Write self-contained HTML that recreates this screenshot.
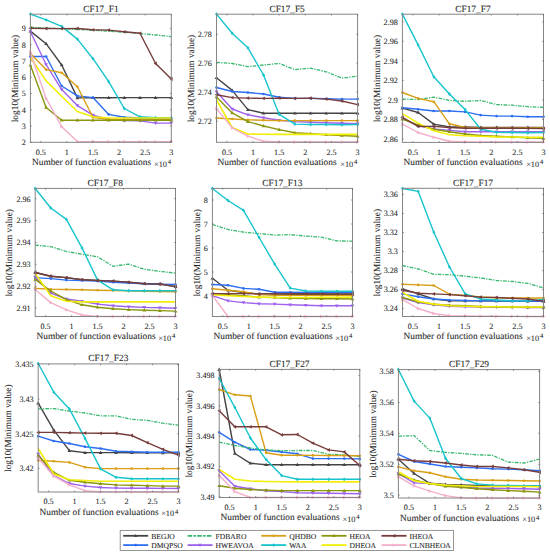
<!DOCTYPE html><html><head><meta charset="utf-8"><style>html,body{margin:0;padding:0;background:#fff;}svg{display:block}</style></head><body>
<svg width="550" height="554" viewBox="0 0 550 554" text-rendering="geometricPrecision">
<style>svg text{font-family:"Liberation Serif", serif;stroke:#262626;stroke-width:0.08px;}</style>
<rect width="550" height="554" fill="#fff"/>
<polyline points="30.4,31.1 46.1,43.7 61.7,65.0 77.4,97.9 93.0,97.8 108.7,97.7 124.3,97.6 140.0,97.6 155.6,97.6 171.3,97.6" fill="none" stroke="#444444" stroke-width="1.4" stroke-linejoin="round"/>
<path d="M30.4 29.2l1.9 3.2h-3.8z" fill="#444444"/><path d="M46.1 41.8l1.9 3.2h-3.8z" fill="#444444"/><path d="M61.7 63.1l1.9 3.2h-3.8z" fill="#444444"/><path d="M77.4 96.0l1.9 3.2h-3.8z" fill="#444444"/><path d="M93.0 95.9l1.9 3.2h-3.8z" fill="#444444"/><path d="M108.7 95.8l1.9 3.2h-3.8z" fill="#444444"/><path d="M124.3 95.7l1.9 3.2h-3.8z" fill="#444444"/><path d="M140.0 95.7l1.9 3.2h-3.8z" fill="#444444"/><path d="M155.6 95.7l1.9 3.2h-3.8z" fill="#444444"/><path d="M171.3 95.7l1.9 3.2h-3.8z" fill="#444444"/>
<polyline points="30.4,56.5 46.1,56.5 61.7,86.0 77.4,95.9 93.0,97.6 108.7,114.4 124.3,117.3 140.0,118.0 155.6,118.7 171.3,118.7" fill="none" stroke="#2c6ef2" stroke-width="1.4" stroke-linejoin="round"/>
<circle cx="30.4" cy="56.5" r="1.3" fill="#2c6ef2"/><circle cx="46.1" cy="56.5" r="1.3" fill="#2c6ef2"/><circle cx="61.7" cy="86.0" r="1.3" fill="#2c6ef2"/><circle cx="77.4" cy="95.9" r="1.3" fill="#2c6ef2"/><circle cx="93.0" cy="97.6" r="1.3" fill="#2c6ef2"/><circle cx="108.7" cy="114.4" r="1.3" fill="#2c6ef2"/><circle cx="124.3" cy="117.3" r="1.3" fill="#2c6ef2"/><circle cx="140.0" cy="118.0" r="1.3" fill="#2c6ef2"/><circle cx="155.6" cy="118.7" r="1.3" fill="#2c6ef2"/><circle cx="171.3" cy="118.7" r="1.3" fill="#2c6ef2"/>
<polyline points="30.4,27.3 46.1,28.0 61.7,28.7 77.4,29.5 93.0,30.3 108.7,31.2 124.3,32.2 140.0,33.5 155.6,35.0 171.3,36.6" fill="none" stroke="#35b86c" stroke-width="1.3" stroke-linejoin="round" stroke-dasharray="3.6,1.2,1.3,1.2"/>
<polyline points="30.4,31.8 46.1,64.5 61.7,89.6 77.4,105.6 93.0,115.1 108.7,119.5 124.3,120.5 140.0,120.9 155.6,123.1 171.3,123.1" fill="none" stroke="#9f62ee" stroke-width="1.4" stroke-linejoin="round"/>
<path d="M30.4 33.7l1.9 -3.2h-3.8z" fill="#9f62ee"/><path d="M46.1 66.4l1.9 -3.2h-3.8z" fill="#9f62ee"/><path d="M61.7 91.5l1.9 -3.2h-3.8z" fill="#9f62ee"/><path d="M77.4 107.5l1.9 -3.2h-3.8z" fill="#9f62ee"/><path d="M93.0 117.0l1.9 -3.2h-3.8z" fill="#9f62ee"/><path d="M108.7 121.4l1.9 -3.2h-3.8z" fill="#9f62ee"/><path d="M124.3 122.4l1.9 -3.2h-3.8z" fill="#9f62ee"/><path d="M140.0 122.8l1.9 -3.2h-3.8z" fill="#9f62ee"/><path d="M155.6 125.0l1.9 -3.2h-3.8z" fill="#9f62ee"/><path d="M171.3 125.0l1.9 -3.2h-3.8z" fill="#9f62ee"/>
<polyline points="30.4,53.6 46.1,69.6 61.7,72.8 77.4,86.7 93.0,117.3 108.7,119.5 124.3,119.5 140.0,119.5 155.6,119.5 171.3,119.5" fill="none" stroke="#d89f16" stroke-width="1.4" stroke-linejoin="round"/>
<circle cx="30.4" cy="53.6" r="1.3" fill="#d89f16"/><circle cx="46.1" cy="69.6" r="1.3" fill="#d89f16"/><circle cx="61.7" cy="72.8" r="1.3" fill="#d89f16"/><circle cx="77.4" cy="86.7" r="1.3" fill="#d89f16"/><circle cx="93.0" cy="117.3" r="1.3" fill="#d89f16"/><circle cx="108.7" cy="119.5" r="1.3" fill="#d89f16"/><circle cx="124.3" cy="119.5" r="1.3" fill="#d89f16"/><circle cx="140.0" cy="119.5" r="1.3" fill="#d89f16"/><circle cx="155.6" cy="119.5" r="1.3" fill="#d89f16"/><circle cx="171.3" cy="119.5" r="1.3" fill="#d89f16"/>
<polyline points="30.4,14.1 46.1,19.9 61.7,26.4 77.4,39.1 93.0,58.7 108.7,81.6 124.3,108.5 140.0,116.8 155.6,117.7 171.3,117.7" fill="none" stroke="#16c4cc" stroke-width="1.4" stroke-linejoin="round"/>
<path d="M30.4 12.2l1.5 1.9l-1.5 1.9l-1.5 -1.9z" fill="#16c4cc"/><path d="M46.1 18.0l1.5 1.9l-1.5 1.9l-1.5 -1.9z" fill="#16c4cc"/><path d="M61.7 24.5l1.5 1.9l-1.5 1.9l-1.5 -1.9z" fill="#16c4cc"/><path d="M77.4 37.2l1.5 1.9l-1.5 1.9l-1.5 -1.9z" fill="#16c4cc"/><path d="M93.0 56.8l1.5 1.9l-1.5 1.9l-1.5 -1.9z" fill="#16c4cc"/><path d="M108.7 79.7l1.5 1.9l-1.5 1.9l-1.5 -1.9z" fill="#16c4cc"/><path d="M124.3 106.6l1.5 1.9l-1.5 1.9l-1.5 -1.9z" fill="#16c4cc"/><path d="M140.0 114.9l1.5 1.9l-1.5 1.9l-1.5 -1.9z" fill="#16c4cc"/><path d="M155.6 115.8l1.5 1.9l-1.5 1.9l-1.5 -1.9z" fill="#16c4cc"/><path d="M171.3 115.8l1.5 1.9l-1.5 1.9l-1.5 -1.9z" fill="#16c4cc"/>
<polyline points="30.4,65.3 46.1,107.5 61.7,120.2 77.4,120.2 93.0,120.2 108.7,120.2 124.3,120.2 140.0,120.2 155.6,120.2 171.3,120.2" fill="none" stroke="#8a960c" stroke-width="1.4" stroke-linejoin="round"/>
<path d="M30.4 63.4l1.9 3.2h-3.8z" fill="#8a960c"/><path d="M46.1 105.6l1.9 3.2h-3.8z" fill="#8a960c"/><path d="M61.7 118.3l1.9 3.2h-3.8z" fill="#8a960c"/><path d="M77.4 118.3l1.9 3.2h-3.8z" fill="#8a960c"/><path d="M93.0 118.3l1.9 3.2h-3.8z" fill="#8a960c"/><path d="M108.7 118.3l1.9 3.2h-3.8z" fill="#8a960c"/><path d="M124.3 118.3l1.9 3.2h-3.8z" fill="#8a960c"/><path d="M140.0 118.3l1.9 3.2h-3.8z" fill="#8a960c"/><path d="M155.6 118.3l1.9 3.2h-3.8z" fill="#8a960c"/><path d="M171.3 118.3l1.9 3.2h-3.8z" fill="#8a960c"/>
<polyline points="30.4,57.3 46.1,80.9 61.7,96.2 77.4,111.5 93.0,116.8 108.7,118.0 124.3,118.0 140.0,118.0 155.6,118.0 171.3,118.0" fill="none" stroke="#f2ee08" stroke-width="1.6" stroke-linejoin="round"/>
<polyline points="30.4,28.2 46.1,28.5 61.7,28.6 77.4,28.5 93.0,29.8 108.7,30.1 124.3,31.8 140.0,33.3 155.6,63.5 171.3,79.0" fill="none" stroke="#773c3c" stroke-width="1.4" stroke-linejoin="round"/>
<path d="M28.5 28.2l3.2 -1.9v3.8z" fill="#773c3c"/><path d="M44.2 28.5l3.2 -1.9v3.8z" fill="#773c3c"/><path d="M59.8 28.6l3.2 -1.9v3.8z" fill="#773c3c"/><path d="M75.5 28.5l3.2 -1.9v3.8z" fill="#773c3c"/><path d="M91.1 29.8l3.2 -1.9v3.8z" fill="#773c3c"/><path d="M106.8 30.1l3.2 -1.9v3.8z" fill="#773c3c"/><path d="M122.4 31.8l3.2 -1.9v3.8z" fill="#773c3c"/><path d="M138.1 33.3l3.2 -1.9v3.8z" fill="#773c3c"/><path d="M153.7 63.5l3.2 -1.9v3.8z" fill="#773c3c"/><path d="M169.4 79.0l3.2 -1.9v3.8z" fill="#773c3c"/>
<polyline points="30.4,52.2 46.1,98.4 61.7,126.7 77.4,141.6 93.0,141.6 108.7,141.6 124.3,141.6 140.0,141.6 155.6,141.6 171.3,141.6" fill="none" stroke="#f4aecb" stroke-width="1.4" stroke-linejoin="round"/>
<path d="M32.3 52.2l-3.2 -1.9v3.8z" fill="#f4aecb"/><path d="M48.0 98.4l-3.2 -1.9v3.8z" fill="#f4aecb"/><path d="M63.6 126.7l-3.2 -1.9v3.8z" fill="#f4aecb"/><path d="M79.3 141.6l-3.2 -1.9v3.8z" fill="#f4aecb"/><path d="M94.9 141.6l-3.2 -1.9v3.8z" fill="#f4aecb"/><path d="M110.6 141.6l-3.2 -1.9v3.8z" fill="#f4aecb"/><path d="M126.2 141.6l-3.2 -1.9v3.8z" fill="#f4aecb"/><path d="M141.9 141.6l-3.2 -1.9v3.8z" fill="#f4aecb"/><path d="M157.5 141.6l-3.2 -1.9v3.8z" fill="#f4aecb"/><path d="M173.2 141.6l-3.2 -1.9v3.8z" fill="#f4aecb"/>
<rect x="30.4" y="14.2" width="140.9" height="128.1" fill="none" stroke="#858585" stroke-width="1.0"/>
<path d="M40.8 142.3v-1.4M40.8 14.2v1.4M66.9 142.3v-1.4M66.9 14.2v1.4M93.0 142.3v-1.4M93.0 14.2v1.4M119.1 142.3v-1.4M119.1 14.2v1.4M145.2 142.3v-1.4M145.2 14.2v1.4M171.3 142.3v-1.4M171.3 14.2v1.4M30.4 142.3h1.4M171.3 142.3h-1.4M30.4 126.0h1.4M171.3 126.0h-1.4M30.4 109.8h1.4M171.3 109.8h-1.4M30.4 93.5h1.4M171.3 93.5h-1.4M30.4 77.2h1.4M171.3 77.2h-1.4M30.4 61.0h1.4M171.3 61.0h-1.4M30.4 44.7h1.4M171.3 44.7h-1.4M30.4 28.4h1.4M171.3 28.4h-1.4" stroke="#555" stroke-width="0.6" fill="none"/>
<text x="40.8" y="154.6" font-size="8.15" text-anchor="middle" fill="#262626">0.5</text>
<text x="66.9" y="154.6" font-size="8.15" text-anchor="middle" fill="#262626">1</text>
<text x="93.0" y="154.6" font-size="8.15" text-anchor="middle" fill="#262626">1.5</text>
<text x="119.1" y="154.6" font-size="8.15" text-anchor="middle" fill="#262626">2</text>
<text x="145.2" y="154.6" font-size="8.15" text-anchor="middle" fill="#262626">2.5</text>
<text x="171.3" y="154.6" font-size="8.15" text-anchor="middle" fill="#262626">3</text>
<text x="25.8" y="145.1" font-size="8.15" text-anchor="end" fill="#262626">2</text>
<text x="25.8" y="128.8" font-size="8.15" text-anchor="end" fill="#262626">3</text>
<text x="25.8" y="112.6" font-size="8.15" text-anchor="end" fill="#262626">4</text>
<text x="25.8" y="96.3" font-size="8.15" text-anchor="end" fill="#262626">5</text>
<text x="25.8" y="80.0" font-size="8.15" text-anchor="end" fill="#262626">6</text>
<text x="25.8" y="63.8" font-size="8.15" text-anchor="end" fill="#262626">7</text>
<text x="25.8" y="47.5" font-size="8.15" text-anchor="end" fill="#262626">8</text>
<text x="25.8" y="31.2" font-size="8.15" text-anchor="end" fill="#262626">9</text>
<text x="100.9" y="11.6" font-size="9.4" text-anchor="middle" fill="#262626">CF17_F1</text>
<text x="32.0" y="164.9" font-size="9.35" fill="#262626">Number of function evaluations</text>
<text x="154.0" y="166.5" font-size="8.3" fill="#333">&#215;10</text>
<text x="167.7" y="163.8" font-size="6.6" fill="#333">4</text>
<text transform="translate(17.7 78.5) rotate(-90)" font-size="9.35" text-anchor="middle" fill="#262626">log10(Minimum value)</text>
<polyline points="216.5,77.8 232.2,90.4 247.9,109.6 263.5,113.2 279.2,113.3 294.9,113.3 310.6,113.3 326.2,113.3 341.9,113.3 357.6,113.3" fill="none" stroke="#444444" stroke-width="1.4" stroke-linejoin="round"/>
<path d="M216.5 75.9l1.9 3.2h-3.8z" fill="#444444"/><path d="M232.2 88.5l1.9 3.2h-3.8z" fill="#444444"/><path d="M247.9 107.7l1.9 3.2h-3.8z" fill="#444444"/><path d="M263.5 111.3l1.9 3.2h-3.8z" fill="#444444"/><path d="M279.2 111.4l1.9 3.2h-3.8z" fill="#444444"/><path d="M294.9 111.4l1.9 3.2h-3.8z" fill="#444444"/><path d="M310.6 111.4l1.9 3.2h-3.8z" fill="#444444"/><path d="M326.2 111.4l1.9 3.2h-3.8z" fill="#444444"/><path d="M341.9 111.4l1.9 3.2h-3.8z" fill="#444444"/><path d="M357.6 111.4l1.9 3.2h-3.8z" fill="#444444"/>
<polyline points="216.5,87.5 232.2,91.5 247.9,92.5 263.5,94.0 279.2,97.2 294.9,98.4 310.6,98.4 326.2,98.8 341.9,99.1 357.6,99.1" fill="none" stroke="#2c6ef2" stroke-width="1.4" stroke-linejoin="round"/>
<circle cx="216.5" cy="87.5" r="1.3" fill="#2c6ef2"/><circle cx="232.2" cy="91.5" r="1.3" fill="#2c6ef2"/><circle cx="247.9" cy="92.5" r="1.3" fill="#2c6ef2"/><circle cx="263.5" cy="94.0" r="1.3" fill="#2c6ef2"/><circle cx="279.2" cy="97.2" r="1.3" fill="#2c6ef2"/><circle cx="294.9" cy="98.4" r="1.3" fill="#2c6ef2"/><circle cx="310.6" cy="98.4" r="1.3" fill="#2c6ef2"/><circle cx="326.2" cy="98.8" r="1.3" fill="#2c6ef2"/><circle cx="341.9" cy="99.1" r="1.3" fill="#2c6ef2"/><circle cx="357.6" cy="99.1" r="1.3" fill="#2c6ef2"/>
<polyline points="216.5,62.4 232.2,63.5 247.9,66.7 263.5,65.0 279.2,63.5 294.9,69.6 310.6,68.2 326.2,71.8 341.9,78.1 357.6,76.2" fill="none" stroke="#35b86c" stroke-width="1.3" stroke-linejoin="round" stroke-dasharray="3.6,1.2,1.3,1.2"/>
<polyline points="216.5,91.8 232.2,109.0 247.9,114.8 263.5,117.7 279.2,120.2 294.9,121.6 310.6,122.2 326.2,122.8 341.9,123.3 357.6,123.8" fill="none" stroke="#9f62ee" stroke-width="1.4" stroke-linejoin="round"/>
<path d="M216.5 93.7l1.9 -3.2h-3.8z" fill="#9f62ee"/><path d="M232.2 110.9l1.9 -3.2h-3.8z" fill="#9f62ee"/><path d="M247.9 116.7l1.9 -3.2h-3.8z" fill="#9f62ee"/><path d="M263.5 119.6l1.9 -3.2h-3.8z" fill="#9f62ee"/><path d="M279.2 122.1l1.9 -3.2h-3.8z" fill="#9f62ee"/><path d="M294.9 123.5l1.9 -3.2h-3.8z" fill="#9f62ee"/><path d="M310.6 124.1l1.9 -3.2h-3.8z" fill="#9f62ee"/><path d="M326.2 124.7l1.9 -3.2h-3.8z" fill="#9f62ee"/><path d="M341.9 125.2l1.9 -3.2h-3.8z" fill="#9f62ee"/><path d="M357.6 125.7l1.9 -3.2h-3.8z" fill="#9f62ee"/>
<polyline points="216.5,118.0 232.2,119.0 247.9,119.9 263.5,120.2 279.2,120.6 294.9,120.6 310.6,120.6 326.2,120.6 341.9,120.6 357.6,120.6" fill="none" stroke="#d89f16" stroke-width="1.4" stroke-linejoin="round"/>
<circle cx="216.5" cy="118.0" r="1.3" fill="#d89f16"/><circle cx="232.2" cy="119.0" r="1.3" fill="#d89f16"/><circle cx="247.9" cy="119.9" r="1.3" fill="#d89f16"/><circle cx="263.5" cy="120.2" r="1.3" fill="#d89f16"/><circle cx="279.2" cy="120.6" r="1.3" fill="#d89f16"/><circle cx="294.9" cy="120.6" r="1.3" fill="#d89f16"/><circle cx="310.6" cy="120.6" r="1.3" fill="#d89f16"/><circle cx="326.2" cy="120.6" r="1.3" fill="#d89f16"/><circle cx="341.9" cy="120.6" r="1.3" fill="#d89f16"/><circle cx="357.6" cy="120.6" r="1.3" fill="#d89f16"/>
<polyline points="216.5,14.1 232.2,33.3 247.9,47.8 263.5,75.0 279.2,114.4 294.9,124.1 310.6,124.5 326.2,124.5 341.9,124.8 357.6,124.5" fill="none" stroke="#16c4cc" stroke-width="1.4" stroke-linejoin="round"/>
<path d="M216.5 12.2l1.5 1.9l-1.5 1.9l-1.5 -1.9z" fill="#16c4cc"/><path d="M232.2 31.4l1.5 1.9l-1.5 1.9l-1.5 -1.9z" fill="#16c4cc"/><path d="M247.9 45.9l1.5 1.9l-1.5 1.9l-1.5 -1.9z" fill="#16c4cc"/><path d="M263.5 73.1l1.5 1.9l-1.5 1.9l-1.5 -1.9z" fill="#16c4cc"/><path d="M279.2 112.5l1.5 1.9l-1.5 1.9l-1.5 -1.9z" fill="#16c4cc"/><path d="M294.9 122.2l1.5 1.9l-1.5 1.9l-1.5 -1.9z" fill="#16c4cc"/><path d="M310.6 122.6l1.5 1.9l-1.5 1.9l-1.5 -1.9z" fill="#16c4cc"/><path d="M326.2 122.6l1.5 1.9l-1.5 1.9l-1.5 -1.9z" fill="#16c4cc"/><path d="M341.9 122.9l1.5 1.9l-1.5 1.9l-1.5 -1.9z" fill="#16c4cc"/><path d="M357.6 122.6l1.5 1.9l-1.5 1.9l-1.5 -1.9z" fill="#16c4cc"/>
<polyline points="216.5,96.9 232.2,112.9 247.9,121.6 263.5,126.0 279.2,129.6 294.9,132.8 310.6,133.7 326.2,134.7 341.9,135.5 357.6,136.2" fill="none" stroke="#8a960c" stroke-width="1.4" stroke-linejoin="round"/>
<path d="M216.5 95.0l1.9 3.2h-3.8z" fill="#8a960c"/><path d="M232.2 111.0l1.9 3.2h-3.8z" fill="#8a960c"/><path d="M247.9 119.7l1.9 3.2h-3.8z" fill="#8a960c"/><path d="M263.5 124.1l1.9 3.2h-3.8z" fill="#8a960c"/><path d="M279.2 127.7l1.9 3.2h-3.8z" fill="#8a960c"/><path d="M294.9 130.9l1.9 3.2h-3.8z" fill="#8a960c"/><path d="M310.6 131.8l1.9 3.2h-3.8z" fill="#8a960c"/><path d="M326.2 132.8l1.9 3.2h-3.8z" fill="#8a960c"/><path d="M341.9 133.6l1.9 3.2h-3.8z" fill="#8a960c"/><path d="M357.6 134.3l1.9 3.2h-3.8z" fill="#8a960c"/>
<polyline points="216.5,99.8 232.2,127.5 247.9,134.0 263.5,134.2 279.2,134.4 294.9,134.4 310.6,134.4 326.2,134.4 341.9,134.4 357.6,134.4" fill="none" stroke="#f2ee08" stroke-width="1.6" stroke-linejoin="round"/>
<polyline points="216.5,94.7 232.2,97.6 247.9,98.1 263.5,98.4 279.2,98.1 294.9,98.4 310.6,98.1 326.2,99.1 341.9,101.0 357.6,104.6" fill="none" stroke="#773c3c" stroke-width="1.4" stroke-linejoin="round"/>
<path d="M214.6 94.7l3.2 -1.9v3.8z" fill="#773c3c"/><path d="M230.3 97.6l3.2 -1.9v3.8z" fill="#773c3c"/><path d="M246.0 98.1l3.2 -1.9v3.8z" fill="#773c3c"/><path d="M261.6 98.4l3.2 -1.9v3.8z" fill="#773c3c"/><path d="M277.3 98.1l3.2 -1.9v3.8z" fill="#773c3c"/><path d="M293.0 98.4l3.2 -1.9v3.8z" fill="#773c3c"/><path d="M308.7 98.1l3.2 -1.9v3.8z" fill="#773c3c"/><path d="M324.3 99.1l3.2 -1.9v3.8z" fill="#773c3c"/><path d="M340.0 101.0l3.2 -1.9v3.8z" fill="#773c3c"/><path d="M355.7 104.6l3.2 -1.9v3.8z" fill="#773c3c"/>
<polyline points="216.5,108.5 232.2,127.9 247.9,136.2 263.5,141.3 279.2,142.0 294.9,142.0 310.6,142.0 326.2,142.0 341.9,142.0 357.6,142.0" fill="none" stroke="#f4aecb" stroke-width="1.4" stroke-linejoin="round"/>
<path d="M218.4 108.5l-3.2 -1.9v3.8z" fill="#f4aecb"/><path d="M234.1 127.9l-3.2 -1.9v3.8z" fill="#f4aecb"/><path d="M249.8 136.2l-3.2 -1.9v3.8z" fill="#f4aecb"/><path d="M265.4 141.3l-3.2 -1.9v3.8z" fill="#f4aecb"/><path d="M281.1 142.0l-3.2 -1.9v3.8z" fill="#f4aecb"/><path d="M296.8 142.0l-3.2 -1.9v3.8z" fill="#f4aecb"/><path d="M312.5 142.0l-3.2 -1.9v3.8z" fill="#f4aecb"/><path d="M328.1 142.0l-3.2 -1.9v3.8z" fill="#f4aecb"/><path d="M343.8 142.0l-3.2 -1.9v3.8z" fill="#f4aecb"/><path d="M359.5 142.0l-3.2 -1.9v3.8z" fill="#f4aecb"/>
<rect x="216.5" y="14.2" width="141.1" height="128.1" fill="none" stroke="#858585" stroke-width="1.0"/>
<path d="M227.0 142.3v-1.4M227.0 14.2v1.4M253.1 142.3v-1.4M253.1 14.2v1.4M279.2 142.3v-1.4M279.2 14.2v1.4M305.3 142.3v-1.4M305.3 14.2v1.4M331.5 142.3v-1.4M331.5 14.2v1.4M357.6 142.3v-1.4M357.6 14.2v1.4M216.5 121.2h1.4M357.6 121.2h-1.4M216.5 92.1h1.4M357.6 92.1h-1.4M216.5 63.1h1.4M357.6 63.1h-1.4M216.5 34.3h1.4M357.6 34.3h-1.4" stroke="#555" stroke-width="0.6" fill="none"/>
<text x="227.0" y="154.6" font-size="8.15" text-anchor="middle" fill="#262626">0.5</text>
<text x="253.1" y="154.6" font-size="8.15" text-anchor="middle" fill="#262626">1</text>
<text x="279.2" y="154.6" font-size="8.15" text-anchor="middle" fill="#262626">1.5</text>
<text x="305.3" y="154.6" font-size="8.15" text-anchor="middle" fill="#262626">2</text>
<text x="331.5" y="154.6" font-size="8.15" text-anchor="middle" fill="#262626">2.5</text>
<text x="357.6" y="154.6" font-size="8.15" text-anchor="middle" fill="#262626">3</text>
<text x="211.9" y="124.0" font-size="8.15" text-anchor="end" fill="#262626">2.72</text>
<text x="211.9" y="94.9" font-size="8.15" text-anchor="end" fill="#262626">2.74</text>
<text x="211.9" y="65.9" font-size="8.15" text-anchor="end" fill="#262626">2.76</text>
<text x="211.9" y="37.1" font-size="8.15" text-anchor="end" fill="#262626">2.78</text>
<text x="287.1" y="11.6" font-size="9.4" text-anchor="middle" fill="#262626">CF17_F5</text>
<text x="217.5" y="164.9" font-size="9.35" fill="#262626">Number of function evaluations</text>
<text x="340.3" y="166.5" font-size="8.3" fill="#333">&#215;10</text>
<text x="354.0" y="163.8" font-size="6.6" fill="#333">4</text>
<text transform="translate(193.6 78.5) rotate(-90)" font-size="9.35" text-anchor="middle" fill="#262626">log10(Minimum value)</text>
<polyline points="402.4,108.1 418.1,112.5 433.8,124.1 449.4,127.0 465.1,127.0 480.8,127.5 496.5,127.5 512.1,127.5 527.8,127.5 543.5,127.5" fill="none" stroke="#444444" stroke-width="1.4" stroke-linejoin="round"/>
<path d="M402.4 106.2l1.9 3.2h-3.8z" fill="#444444"/><path d="M418.1 110.6l1.9 3.2h-3.8z" fill="#444444"/><path d="M433.8 122.2l1.9 3.2h-3.8z" fill="#444444"/><path d="M449.4 125.1l1.9 3.2h-3.8z" fill="#444444"/><path d="M465.1 125.1l1.9 3.2h-3.8z" fill="#444444"/><path d="M480.8 125.6l1.9 3.2h-3.8z" fill="#444444"/><path d="M496.5 125.6l1.9 3.2h-3.8z" fill="#444444"/><path d="M512.1 125.6l1.9 3.2h-3.8z" fill="#444444"/><path d="M527.8 125.6l1.9 3.2h-3.8z" fill="#444444"/><path d="M543.5 125.6l1.9 3.2h-3.8z" fill="#444444"/>
<polyline points="402.4,107.8 418.1,109.3 433.8,111.0 449.4,111.0 465.1,111.9 480.8,115.1 496.5,116.1 512.1,116.1 527.8,116.8 543.5,116.8" fill="none" stroke="#2c6ef2" stroke-width="1.4" stroke-linejoin="round"/>
<circle cx="402.4" cy="107.8" r="1.3" fill="#2c6ef2"/><circle cx="418.1" cy="109.3" r="1.3" fill="#2c6ef2"/><circle cx="433.8" cy="111.0" r="1.3" fill="#2c6ef2"/><circle cx="449.4" cy="111.0" r="1.3" fill="#2c6ef2"/><circle cx="465.1" cy="111.9" r="1.3" fill="#2c6ef2"/><circle cx="480.8" cy="115.1" r="1.3" fill="#2c6ef2"/><circle cx="496.5" cy="116.1" r="1.3" fill="#2c6ef2"/><circle cx="512.1" cy="116.1" r="1.3" fill="#2c6ef2"/><circle cx="527.8" cy="116.8" r="1.3" fill="#2c6ef2"/><circle cx="543.5" cy="116.8" r="1.3" fill="#2c6ef2"/>
<polyline points="402.4,99.1 418.1,99.5 433.8,97.2 449.4,100.5 465.1,101.3 480.8,100.5 496.5,104.5 512.1,105.2 527.8,106.7 543.5,107.4" fill="none" stroke="#35b86c" stroke-width="1.3" stroke-linejoin="round" stroke-dasharray="3.6,1.2,1.3,1.2"/>
<polyline points="402.4,118.0 418.1,126.0 433.8,128.9 449.4,130.4 465.1,131.8 480.8,131.8 496.5,131.8 512.1,131.8 527.8,131.8 543.5,131.8" fill="none" stroke="#9f62ee" stroke-width="1.4" stroke-linejoin="round"/>
<path d="M402.4 119.9l1.9 -3.2h-3.8z" fill="#9f62ee"/><path d="M418.1 127.9l1.9 -3.2h-3.8z" fill="#9f62ee"/><path d="M433.8 130.8l1.9 -3.2h-3.8z" fill="#9f62ee"/><path d="M449.4 132.3l1.9 -3.2h-3.8z" fill="#9f62ee"/><path d="M465.1 133.7l1.9 -3.2h-3.8z" fill="#9f62ee"/><path d="M480.8 133.7l1.9 -3.2h-3.8z" fill="#9f62ee"/><path d="M496.5 133.7l1.9 -3.2h-3.8z" fill="#9f62ee"/><path d="M512.1 133.7l1.9 -3.2h-3.8z" fill="#9f62ee"/><path d="M527.8 133.7l1.9 -3.2h-3.8z" fill="#9f62ee"/><path d="M543.5 133.7l1.9 -3.2h-3.8z" fill="#9f62ee"/>
<polyline points="402.4,92.5 418.1,98.4 433.8,101.7 449.4,123.8 465.1,127.5 480.8,128.0 496.5,128.0 512.1,128.0 527.8,128.0 543.5,128.0" fill="none" stroke="#d89f16" stroke-width="1.4" stroke-linejoin="round"/>
<circle cx="402.4" cy="92.5" r="1.3" fill="#d89f16"/><circle cx="418.1" cy="98.4" r="1.3" fill="#d89f16"/><circle cx="433.8" cy="101.7" r="1.3" fill="#d89f16"/><circle cx="449.4" cy="123.8" r="1.3" fill="#d89f16"/><circle cx="465.1" cy="127.5" r="1.3" fill="#d89f16"/><circle cx="480.8" cy="128.0" r="1.3" fill="#d89f16"/><circle cx="496.5" cy="128.0" r="1.3" fill="#d89f16"/><circle cx="512.1" cy="128.0" r="1.3" fill="#d89f16"/><circle cx="527.8" cy="128.0" r="1.3" fill="#d89f16"/><circle cx="543.5" cy="128.0" r="1.3" fill="#d89f16"/>
<polyline points="402.4,14.1 418.1,44.9 433.8,76.8 449.4,94.0 465.1,109.6 480.8,129.3 496.5,132.3 512.1,132.5 527.8,132.8 543.5,132.5" fill="none" stroke="#16c4cc" stroke-width="1.4" stroke-linejoin="round"/>
<path d="M402.4 12.2l1.5 1.9l-1.5 1.9l-1.5 -1.9z" fill="#16c4cc"/><path d="M418.1 43.0l1.5 1.9l-1.5 1.9l-1.5 -1.9z" fill="#16c4cc"/><path d="M433.8 74.9l1.5 1.9l-1.5 1.9l-1.5 -1.9z" fill="#16c4cc"/><path d="M449.4 92.1l1.5 1.9l-1.5 1.9l-1.5 -1.9z" fill="#16c4cc"/><path d="M465.1 107.7l1.5 1.9l-1.5 1.9l-1.5 -1.9z" fill="#16c4cc"/><path d="M480.8 127.4l1.5 1.9l-1.5 1.9l-1.5 -1.9z" fill="#16c4cc"/><path d="M496.5 130.4l1.5 1.9l-1.5 1.9l-1.5 -1.9z" fill="#16c4cc"/><path d="M512.1 130.6l1.5 1.9l-1.5 1.9l-1.5 -1.9z" fill="#16c4cc"/><path d="M527.8 130.9l1.5 1.9l-1.5 1.9l-1.5 -1.9z" fill="#16c4cc"/><path d="M543.5 130.6l1.5 1.9l-1.5 1.9l-1.5 -1.9z" fill="#16c4cc"/>
<polyline points="402.4,119.2 418.1,125.0 433.8,129.3 449.4,131.8 465.1,134.0 480.8,135.5 496.5,136.2 512.1,137.0 527.8,137.7 543.5,138.4" fill="none" stroke="#8a960c" stroke-width="1.4" stroke-linejoin="round"/>
<path d="M402.4 117.3l1.9 3.2h-3.8z" fill="#8a960c"/><path d="M418.1 123.1l1.9 3.2h-3.8z" fill="#8a960c"/><path d="M433.8 127.4l1.9 3.2h-3.8z" fill="#8a960c"/><path d="M449.4 129.9l1.9 3.2h-3.8z" fill="#8a960c"/><path d="M465.1 132.1l1.9 3.2h-3.8z" fill="#8a960c"/><path d="M480.8 133.6l1.9 3.2h-3.8z" fill="#8a960c"/><path d="M496.5 134.3l1.9 3.2h-3.8z" fill="#8a960c"/><path d="M512.1 135.1l1.9 3.2h-3.8z" fill="#8a960c"/><path d="M527.8 135.8l1.9 3.2h-3.8z" fill="#8a960c"/><path d="M543.5 136.5l1.9 3.2h-3.8z" fill="#8a960c"/>
<polyline points="402.4,113.6 418.1,123.1 433.8,130.8 449.4,134.7 465.1,135.7 480.8,136.2 496.5,136.9 512.1,137.0 527.8,137.2 543.5,137.3" fill="none" stroke="#f2ee08" stroke-width="1.6" stroke-linejoin="round"/>
<polyline points="402.4,117.3 418.1,126.4 433.8,126.4 449.4,127.5 465.1,128.2 480.8,128.2 496.5,128.2 512.1,128.3 527.8,128.4 543.5,128.6" fill="none" stroke="#773c3c" stroke-width="1.4" stroke-linejoin="round"/>
<path d="M400.5 117.3l3.2 -1.9v3.8z" fill="#773c3c"/><path d="M416.2 126.4l3.2 -1.9v3.8z" fill="#773c3c"/><path d="M431.9 126.4l3.2 -1.9v3.8z" fill="#773c3c"/><path d="M447.5 127.5l3.2 -1.9v3.8z" fill="#773c3c"/><path d="M463.2 128.2l3.2 -1.9v3.8z" fill="#773c3c"/><path d="M478.9 128.2l3.2 -1.9v3.8z" fill="#773c3c"/><path d="M494.6 128.2l3.2 -1.9v3.8z" fill="#773c3c"/><path d="M510.2 128.3l3.2 -1.9v3.8z" fill="#773c3c"/><path d="M525.9 128.4l3.2 -1.9v3.8z" fill="#773c3c"/><path d="M541.6 128.6l3.2 -1.9v3.8z" fill="#773c3c"/>
<polyline points="402.4,124.1 418.1,132.5 433.8,137.3 449.4,141.3 465.1,142.0 480.8,142.0 496.5,142.0 512.1,142.0 527.8,142.0 543.5,142.0" fill="none" stroke="#f4aecb" stroke-width="1.4" stroke-linejoin="round"/>
<path d="M404.3 124.1l-3.2 -1.9v3.8z" fill="#f4aecb"/><path d="M420.0 132.5l-3.2 -1.9v3.8z" fill="#f4aecb"/><path d="M435.7 137.3l-3.2 -1.9v3.8z" fill="#f4aecb"/><path d="M451.3 141.3l-3.2 -1.9v3.8z" fill="#f4aecb"/><path d="M467.0 142.0l-3.2 -1.9v3.8z" fill="#f4aecb"/><path d="M482.7 142.0l-3.2 -1.9v3.8z" fill="#f4aecb"/><path d="M498.4 142.0l-3.2 -1.9v3.8z" fill="#f4aecb"/><path d="M514.0 142.0l-3.2 -1.9v3.8z" fill="#f4aecb"/><path d="M529.7 142.0l-3.2 -1.9v3.8z" fill="#f4aecb"/><path d="M545.4 142.0l-3.2 -1.9v3.8z" fill="#f4aecb"/>
<rect x="402.4" y="14.2" width="141.1" height="128.2" fill="none" stroke="#858585" stroke-width="1.0"/>
<path d="M412.9 142.4v-1.4M412.9 14.2v1.4M439.0 142.4v-1.4M439.0 14.2v1.4M465.1 142.4v-1.4M465.1 14.2v1.4M491.2 142.4v-1.4M491.2 14.2v1.4M517.4 142.4v-1.4M517.4 14.2v1.4M543.5 142.4v-1.4M543.5 14.2v1.4M402.4 138.9h1.4M543.5 138.9h-1.4M402.4 119.4h1.4M543.5 119.4h-1.4M402.4 99.9h1.4M543.5 99.9h-1.4M402.4 80.4h1.4M543.5 80.4h-1.4M402.4 60.9h1.4M543.5 60.9h-1.4M402.4 41.4h1.4M543.5 41.4h-1.4M402.4 21.9h1.4M543.5 21.9h-1.4" stroke="#555" stroke-width="0.6" fill="none"/>
<text x="412.9" y="154.7" font-size="8.15" text-anchor="middle" fill="#262626">0.5</text>
<text x="439.0" y="154.7" font-size="8.15" text-anchor="middle" fill="#262626">1</text>
<text x="465.1" y="154.7" font-size="8.15" text-anchor="middle" fill="#262626">1.5</text>
<text x="491.2" y="154.7" font-size="8.15" text-anchor="middle" fill="#262626">2</text>
<text x="517.4" y="154.7" font-size="8.15" text-anchor="middle" fill="#262626">2.5</text>
<text x="543.5" y="154.7" font-size="8.15" text-anchor="middle" fill="#262626">3</text>
<text x="397.8" y="141.7" font-size="8.15" text-anchor="end" fill="#262626">2.86</text>
<text x="397.8" y="122.2" font-size="8.15" text-anchor="end" fill="#262626">2.88</text>
<text x="397.8" y="102.7" font-size="8.15" text-anchor="end" fill="#262626">2.9</text>
<text x="397.8" y="83.2" font-size="8.15" text-anchor="end" fill="#262626">2.92</text>
<text x="397.8" y="63.7" font-size="8.15" text-anchor="end" fill="#262626">2.94</text>
<text x="397.8" y="44.2" font-size="8.15" text-anchor="end" fill="#262626">2.96</text>
<text x="397.8" y="24.7" font-size="8.15" text-anchor="end" fill="#262626">2.98</text>
<text x="472.9" y="11.6" font-size="9.4" text-anchor="middle" fill="#262626">CF17_F7</text>
<text x="403.5" y="165.0" font-size="9.35" fill="#262626">Number of function evaluations</text>
<text x="526.2" y="166.6" font-size="8.3" fill="#333">&#215;10</text>
<text x="539.9" y="163.9" font-size="6.6" fill="#333">4</text>
<text transform="translate(379.5 78.6) rotate(-90)" font-size="9.35" text-anchor="middle" fill="#262626">log10(Minimum value)</text>
<polyline points="35.2,272.5 50.8,276.2 66.4,277.6 82.0,279.7 97.6,280.5 113.1,281.1 128.7,282.3 144.3,283.7 159.9,284.0 175.5,286.6" fill="none" stroke="#444444" stroke-width="1.4" stroke-linejoin="round"/>
<path d="M35.2 270.6l1.9 3.2h-3.8z" fill="#444444"/><path d="M50.8 274.3l1.9 3.2h-3.8z" fill="#444444"/><path d="M66.4 275.7l1.9 3.2h-3.8z" fill="#444444"/><path d="M82.0 277.8l1.9 3.2h-3.8z" fill="#444444"/><path d="M97.6 278.6l1.9 3.2h-3.8z" fill="#444444"/><path d="M113.1 279.2l1.9 3.2h-3.8z" fill="#444444"/><path d="M128.7 280.4l1.9 3.2h-3.8z" fill="#444444"/><path d="M144.3 281.8l1.9 3.2h-3.8z" fill="#444444"/><path d="M159.9 282.1l1.9 3.2h-3.8z" fill="#444444"/><path d="M175.5 284.7l1.9 3.2h-3.8z" fill="#444444"/>
<polyline points="35.2,277.6 50.8,278.6 66.4,280.1 82.0,280.5 97.6,281.1 113.1,282.3 128.7,283.0 144.3,283.7 159.9,284.2 175.5,284.5" fill="none" stroke="#2c6ef2" stroke-width="1.4" stroke-linejoin="round"/>
<circle cx="35.2" cy="277.6" r="1.3" fill="#2c6ef2"/><circle cx="50.8" cy="278.6" r="1.3" fill="#2c6ef2"/><circle cx="66.4" cy="280.1" r="1.3" fill="#2c6ef2"/><circle cx="82.0" cy="280.5" r="1.3" fill="#2c6ef2"/><circle cx="97.6" cy="281.1" r="1.3" fill="#2c6ef2"/><circle cx="113.1" cy="282.3" r="1.3" fill="#2c6ef2"/><circle cx="128.7" cy="283.0" r="1.3" fill="#2c6ef2"/><circle cx="144.3" cy="283.7" r="1.3" fill="#2c6ef2"/><circle cx="159.9" cy="284.2" r="1.3" fill="#2c6ef2"/><circle cx="175.5" cy="284.5" r="1.3" fill="#2c6ef2"/>
<polyline points="35.2,245.2 50.8,246.6 66.4,251.5 82.0,254.2 97.6,256.8 113.1,266.3 128.7,264.1 144.3,269.2 159.9,271.4 175.5,273.1" fill="none" stroke="#35b86c" stroke-width="1.3" stroke-linejoin="round" stroke-dasharray="3.6,1.2,1.3,1.2"/>
<polyline points="35.2,277.0 50.8,293.2 66.4,299.0 82.0,301.2 97.6,304.1 113.1,305.8 128.7,306.7 144.3,307.4 159.9,307.7 175.5,308.2" fill="none" stroke="#9f62ee" stroke-width="1.4" stroke-linejoin="round"/>
<path d="M35.2 278.9l1.9 -3.2h-3.8z" fill="#9f62ee"/><path d="M50.8 295.1l1.9 -3.2h-3.8z" fill="#9f62ee"/><path d="M66.4 300.9l1.9 -3.2h-3.8z" fill="#9f62ee"/><path d="M82.0 303.1l1.9 -3.2h-3.8z" fill="#9f62ee"/><path d="M97.6 306.0l1.9 -3.2h-3.8z" fill="#9f62ee"/><path d="M113.1 307.7l1.9 -3.2h-3.8z" fill="#9f62ee"/><path d="M128.7 308.6l1.9 -3.2h-3.8z" fill="#9f62ee"/><path d="M144.3 309.3l1.9 -3.2h-3.8z" fill="#9f62ee"/><path d="M159.9 309.6l1.9 -3.2h-3.8z" fill="#9f62ee"/><path d="M175.5 310.1l1.9 -3.2h-3.8z" fill="#9f62ee"/>
<polyline points="35.2,288.4 50.8,289.3 66.4,289.5 82.0,289.8 97.6,290.3 113.1,290.5 128.7,290.9 144.3,291.2 159.9,291.5 175.5,291.7" fill="none" stroke="#d89f16" stroke-width="1.4" stroke-linejoin="round"/>
<circle cx="35.2" cy="288.4" r="1.3" fill="#d89f16"/><circle cx="50.8" cy="289.3" r="1.3" fill="#d89f16"/><circle cx="66.4" cy="289.5" r="1.3" fill="#d89f16"/><circle cx="82.0" cy="289.8" r="1.3" fill="#d89f16"/><circle cx="97.6" cy="290.3" r="1.3" fill="#d89f16"/><circle cx="113.1" cy="290.5" r="1.3" fill="#d89f16"/><circle cx="128.7" cy="290.9" r="1.3" fill="#d89f16"/><circle cx="144.3" cy="291.2" r="1.3" fill="#d89f16"/><circle cx="159.9" cy="291.5" r="1.3" fill="#d89f16"/><circle cx="175.5" cy="291.7" r="1.3" fill="#d89f16"/>
<polyline points="35.2,188.5 50.8,208.0 66.4,219.4 82.0,247.9 97.6,280.1 113.1,289.8 128.7,290.7 144.3,290.7 159.9,290.7 175.5,290.7" fill="none" stroke="#16c4cc" stroke-width="1.4" stroke-linejoin="round"/>
<path d="M35.2 186.6l1.5 1.9l-1.5 1.9l-1.5 -1.9z" fill="#16c4cc"/><path d="M50.8 206.1l1.5 1.9l-1.5 1.9l-1.5 -1.9z" fill="#16c4cc"/><path d="M66.4 217.5l1.5 1.9l-1.5 1.9l-1.5 -1.9z" fill="#16c4cc"/><path d="M82.0 246.0l1.5 1.9l-1.5 1.9l-1.5 -1.9z" fill="#16c4cc"/><path d="M97.6 278.2l1.5 1.9l-1.5 1.9l-1.5 -1.9z" fill="#16c4cc"/><path d="M113.1 287.9l1.5 1.9l-1.5 1.9l-1.5 -1.9z" fill="#16c4cc"/><path d="M128.7 288.8l1.5 1.9l-1.5 1.9l-1.5 -1.9z" fill="#16c4cc"/><path d="M144.3 288.8l1.5 1.9l-1.5 1.9l-1.5 -1.9z" fill="#16c4cc"/><path d="M159.9 288.8l1.5 1.9l-1.5 1.9l-1.5 -1.9z" fill="#16c4cc"/><path d="M175.5 288.8l1.5 1.9l-1.5 1.9l-1.5 -1.9z" fill="#16c4cc"/>
<polyline points="35.2,279.4 50.8,291.0 66.4,299.7 82.0,304.8 97.6,307.3 113.1,308.7 128.7,309.6 144.3,310.2 159.9,310.6 175.5,311.1" fill="none" stroke="#8a960c" stroke-width="1.4" stroke-linejoin="round"/>
<path d="M35.2 277.5l1.9 3.2h-3.8z" fill="#8a960c"/><path d="M50.8 289.1l1.9 3.2h-3.8z" fill="#8a960c"/><path d="M66.4 297.8l1.9 3.2h-3.8z" fill="#8a960c"/><path d="M82.0 302.9l1.9 3.2h-3.8z" fill="#8a960c"/><path d="M97.6 305.4l1.9 3.2h-3.8z" fill="#8a960c"/><path d="M113.1 306.8l1.9 3.2h-3.8z" fill="#8a960c"/><path d="M128.7 307.7l1.9 3.2h-3.8z" fill="#8a960c"/><path d="M144.3 308.3l1.9 3.2h-3.8z" fill="#8a960c"/><path d="M159.9 308.7l1.9 3.2h-3.8z" fill="#8a960c"/><path d="M175.5 309.2l1.9 3.2h-3.8z" fill="#8a960c"/>
<polyline points="35.2,273.5 50.8,295.7 66.4,301.2 82.0,301.9 97.6,301.9 113.1,301.9 128.7,301.9 144.3,301.9 159.9,301.9 175.5,301.9" fill="none" stroke="#f2ee08" stroke-width="1.6" stroke-linejoin="round"/>
<polyline points="35.2,272.5 50.8,276.2 66.4,277.6 82.0,279.7 97.6,280.5 113.1,281.1 128.7,282.3 144.3,283.7 159.9,284.0 175.5,286.6" fill="none" stroke="#773c3c" stroke-width="1.4" stroke-linejoin="round"/>
<path d="M33.3 272.5l3.2 -1.9v3.8z" fill="#773c3c"/><path d="M48.9 276.2l3.2 -1.9v3.8z" fill="#773c3c"/><path d="M64.5 277.6l3.2 -1.9v3.8z" fill="#773c3c"/><path d="M80.1 279.7l3.2 -1.9v3.8z" fill="#773c3c"/><path d="M95.7 280.5l3.2 -1.9v3.8z" fill="#773c3c"/><path d="M111.2 281.1l3.2 -1.9v3.8z" fill="#773c3c"/><path d="M126.8 282.3l3.2 -1.9v3.8z" fill="#773c3c"/><path d="M142.4 283.7l3.2 -1.9v3.8z" fill="#773c3c"/><path d="M158.0 284.0l3.2 -1.9v3.8z" fill="#773c3c"/><path d="M173.6 286.6l3.2 -1.9v3.8z" fill="#773c3c"/>
<polyline points="35.2,289.5 50.8,302.6 66.4,309.9 82.0,315.0 97.6,316.5 113.1,316.5 128.7,316.5 144.3,316.5 159.9,316.5 175.5,316.5" fill="none" stroke="#f4aecb" stroke-width="1.4" stroke-linejoin="round"/>
<path d="M37.1 289.5l-3.2 -1.9v3.8z" fill="#f4aecb"/><path d="M52.7 302.6l-3.2 -1.9v3.8z" fill="#f4aecb"/><path d="M68.3 309.9l-3.2 -1.9v3.8z" fill="#f4aecb"/><path d="M83.9 315.0l-3.2 -1.9v3.8z" fill="#f4aecb"/><path d="M99.5 316.5l-3.2 -1.9v3.8z" fill="#f4aecb"/><path d="M115.0 316.5l-3.2 -1.9v3.8z" fill="#f4aecb"/><path d="M130.6 316.5l-3.2 -1.9v3.8z" fill="#f4aecb"/><path d="M146.2 316.5l-3.2 -1.9v3.8z" fill="#f4aecb"/><path d="M161.8 316.5l-3.2 -1.9v3.8z" fill="#f4aecb"/><path d="M177.4 316.5l-3.2 -1.9v3.8z" fill="#f4aecb"/>
<rect x="35.2" y="188.4" width="140.3" height="128.1" fill="none" stroke="#858585" stroke-width="1.0"/>
<path d="M45.6 316.5v-1.4M45.6 188.4v1.4M71.6 316.5v-1.4M71.6 188.4v1.4M97.6 316.5v-1.4M97.6 188.4v1.4M123.5 316.5v-1.4M123.5 188.4v1.4M149.5 316.5v-1.4M149.5 188.4v1.4M175.5 316.5v-1.4M175.5 188.4v1.4M35.2 308.1h1.4M175.5 308.1h-1.4M35.2 286.2h1.4M175.5 286.2h-1.4M35.2 264.3h1.4M175.5 264.3h-1.4M35.2 242.5h1.4M175.5 242.5h-1.4M35.2 220.6h1.4M175.5 220.6h-1.4M35.2 198.7h1.4M175.5 198.7h-1.4" stroke="#555" stroke-width="0.6" fill="none"/>
<text x="45.6" y="328.8" font-size="8.15" text-anchor="middle" fill="#262626">0.5</text>
<text x="71.6" y="328.8" font-size="8.15" text-anchor="middle" fill="#262626">1</text>
<text x="97.6" y="328.8" font-size="8.15" text-anchor="middle" fill="#262626">1.5</text>
<text x="123.5" y="328.8" font-size="8.15" text-anchor="middle" fill="#262626">2</text>
<text x="149.5" y="328.8" font-size="8.15" text-anchor="middle" fill="#262626">2.5</text>
<text x="175.5" y="328.8" font-size="8.15" text-anchor="middle" fill="#262626">3</text>
<text x="30.6" y="310.9" font-size="8.15" text-anchor="end" fill="#262626">2.91</text>
<text x="30.6" y="289.0" font-size="8.15" text-anchor="end" fill="#262626">2.92</text>
<text x="30.6" y="267.1" font-size="8.15" text-anchor="end" fill="#262626">2.93</text>
<text x="30.6" y="245.3" font-size="8.15" text-anchor="end" fill="#262626">2.94</text>
<text x="30.6" y="223.4" font-size="8.15" text-anchor="end" fill="#262626">2.95</text>
<text x="30.6" y="201.5" font-size="8.15" text-anchor="end" fill="#262626">2.96</text>
<text x="105.3" y="185.8" font-size="9.4" text-anchor="middle" fill="#262626">CF17_F8</text>
<text x="36.5" y="339.1" font-size="9.35" fill="#262626">Number of function evaluations</text>
<text x="158.2" y="340.7" font-size="8.3" fill="#333">&#215;10</text>
<text x="171.9" y="338.0" font-size="6.6" fill="#333">4</text>
<text transform="translate(12.3 252.8) rotate(-90)" font-size="9.35" text-anchor="middle" fill="#262626">log10(Minimum value)</text>
<polyline points="212.4,278.3 228.0,290.3 243.5,292.5 259.1,293.9 274.7,294.0 290.2,294.2 305.8,294.2 321.4,294.2 336.9,294.2 352.5,294.2" fill="none" stroke="#444444" stroke-width="1.4" stroke-linejoin="round"/>
<path d="M212.4 276.4l1.9 3.2h-3.8z" fill="#444444"/><path d="M228.0 288.4l1.9 3.2h-3.8z" fill="#444444"/><path d="M243.5 290.6l1.9 3.2h-3.8z" fill="#444444"/><path d="M259.1 292.0l1.9 3.2h-3.8z" fill="#444444"/><path d="M274.7 292.1l1.9 3.2h-3.8z" fill="#444444"/><path d="M290.2 292.3l1.9 3.2h-3.8z" fill="#444444"/><path d="M305.8 292.3l1.9 3.2h-3.8z" fill="#444444"/><path d="M321.4 292.3l1.9 3.2h-3.8z" fill="#444444"/><path d="M336.9 292.3l1.9 3.2h-3.8z" fill="#444444"/><path d="M352.5 292.3l1.9 3.2h-3.8z" fill="#444444"/>
<polyline points="212.4,284.5 228.0,285.2 243.5,288.4 259.1,289.3 274.7,292.2 290.2,292.2 305.8,292.5 321.4,292.5 336.9,292.5 352.5,292.5" fill="none" stroke="#2c6ef2" stroke-width="1.4" stroke-linejoin="round"/>
<circle cx="212.4" cy="284.5" r="1.3" fill="#2c6ef2"/><circle cx="228.0" cy="285.2" r="1.3" fill="#2c6ef2"/><circle cx="243.5" cy="288.4" r="1.3" fill="#2c6ef2"/><circle cx="259.1" cy="289.3" r="1.3" fill="#2c6ef2"/><circle cx="274.7" cy="292.2" r="1.3" fill="#2c6ef2"/><circle cx="290.2" cy="292.2" r="1.3" fill="#2c6ef2"/><circle cx="305.8" cy="292.5" r="1.3" fill="#2c6ef2"/><circle cx="321.4" cy="292.5" r="1.3" fill="#2c6ef2"/><circle cx="336.9" cy="292.5" r="1.3" fill="#2c6ef2"/><circle cx="352.5" cy="292.5" r="1.3" fill="#2c6ef2"/>
<polyline points="212.4,224.5 228.0,229.5 243.5,232.2 259.1,233.6 274.7,235.1 290.2,234.6 305.8,236.1 321.4,237.1 336.9,240.9 352.5,241.2" fill="none" stroke="#35b86c" stroke-width="1.3" stroke-linejoin="round" stroke-dasharray="3.6,1.2,1.3,1.2"/>
<polyline points="212.4,295.7 228.0,300.9 243.5,302.6 259.1,303.8 274.7,304.1 290.2,304.8 305.8,305.3 321.4,305.8 336.9,305.8 352.5,305.8" fill="none" stroke="#9f62ee" stroke-width="1.4" stroke-linejoin="round"/>
<path d="M212.4 297.6l1.9 -3.2h-3.8z" fill="#9f62ee"/><path d="M228.0 302.8l1.9 -3.2h-3.8z" fill="#9f62ee"/><path d="M243.5 304.5l1.9 -3.2h-3.8z" fill="#9f62ee"/><path d="M259.1 305.7l1.9 -3.2h-3.8z" fill="#9f62ee"/><path d="M274.7 306.0l1.9 -3.2h-3.8z" fill="#9f62ee"/><path d="M290.2 306.7l1.9 -3.2h-3.8z" fill="#9f62ee"/><path d="M305.8 307.2l1.9 -3.2h-3.8z" fill="#9f62ee"/><path d="M321.4 307.7l1.9 -3.2h-3.8z" fill="#9f62ee"/><path d="M336.9 307.7l1.9 -3.2h-3.8z" fill="#9f62ee"/><path d="M352.5 307.7l1.9 -3.2h-3.8z" fill="#9f62ee"/>
<polyline points="212.4,288.8 228.0,290.3 243.5,291.7 259.1,294.6 274.7,295.4 290.2,295.4 305.8,295.4 321.4,295.4 336.9,295.4 352.5,295.4" fill="none" stroke="#d89f16" stroke-width="1.4" stroke-linejoin="round"/>
<circle cx="212.4" cy="288.8" r="1.3" fill="#d89f16"/><circle cx="228.0" cy="290.3" r="1.3" fill="#d89f16"/><circle cx="243.5" cy="291.7" r="1.3" fill="#d89f16"/><circle cx="259.1" cy="294.6" r="1.3" fill="#d89f16"/><circle cx="274.7" cy="295.4" r="1.3" fill="#d89f16"/><circle cx="290.2" cy="295.4" r="1.3" fill="#d89f16"/><circle cx="305.8" cy="295.4" r="1.3" fill="#d89f16"/><circle cx="321.4" cy="295.4" r="1.3" fill="#d89f16"/><circle cx="336.9" cy="295.4" r="1.3" fill="#d89f16"/><circle cx="352.5" cy="295.4" r="1.3" fill="#d89f16"/>
<polyline points="212.4,188.5 228.0,200.5 243.5,210.3 259.1,237.5 274.7,264.1 290.2,288.1 305.8,291.0 321.4,291.3 336.9,291.3 352.5,291.3" fill="none" stroke="#16c4cc" stroke-width="1.4" stroke-linejoin="round"/>
<path d="M212.4 186.6l1.5 1.9l-1.5 1.9l-1.5 -1.9z" fill="#16c4cc"/><path d="M228.0 198.6l1.5 1.9l-1.5 1.9l-1.5 -1.9z" fill="#16c4cc"/><path d="M243.5 208.4l1.5 1.9l-1.5 1.9l-1.5 -1.9z" fill="#16c4cc"/><path d="M259.1 235.6l1.5 1.9l-1.5 1.9l-1.5 -1.9z" fill="#16c4cc"/><path d="M274.7 262.2l1.5 1.9l-1.5 1.9l-1.5 -1.9z" fill="#16c4cc"/><path d="M290.2 286.2l1.5 1.9l-1.5 1.9l-1.5 -1.9z" fill="#16c4cc"/><path d="M305.8 289.1l1.5 1.9l-1.5 1.9l-1.5 -1.9z" fill="#16c4cc"/><path d="M321.4 289.4l1.5 1.9l-1.5 1.9l-1.5 -1.9z" fill="#16c4cc"/><path d="M336.9 289.4l1.5 1.9l-1.5 1.9l-1.5 -1.9z" fill="#16c4cc"/><path d="M352.5 289.4l1.5 1.9l-1.5 1.9l-1.5 -1.9z" fill="#16c4cc"/>
<polyline points="212.4,293.6 228.0,294.6 243.5,295.8 259.1,297.1 274.7,297.5 290.2,298.3 305.8,298.5 321.4,298.7 336.9,298.8 352.5,299.0" fill="none" stroke="#8a960c" stroke-width="1.4" stroke-linejoin="round"/>
<path d="M212.4 291.7l1.9 3.2h-3.8z" fill="#8a960c"/><path d="M228.0 292.7l1.9 3.2h-3.8z" fill="#8a960c"/><path d="M243.5 293.9l1.9 3.2h-3.8z" fill="#8a960c"/><path d="M259.1 295.2l1.9 3.2h-3.8z" fill="#8a960c"/><path d="M274.7 295.6l1.9 3.2h-3.8z" fill="#8a960c"/><path d="M290.2 296.4l1.9 3.2h-3.8z" fill="#8a960c"/><path d="M305.8 296.6l1.9 3.2h-3.8z" fill="#8a960c"/><path d="M321.4 296.8l1.9 3.2h-3.8z" fill="#8a960c"/><path d="M336.9 296.9l1.9 3.2h-3.8z" fill="#8a960c"/><path d="M352.5 297.1l1.9 3.2h-3.8z" fill="#8a960c"/>
<polyline points="212.4,294.6 228.0,295.7 243.5,296.5 259.1,297.1 274.7,297.5 290.2,297.5 305.8,297.5 321.4,297.3 336.9,297.2 352.5,297.1" fill="none" stroke="#f2ee08" stroke-width="1.6" stroke-linejoin="round"/>
<polyline points="212.4,293.6 228.0,293.6 243.5,293.6 259.1,293.9 274.7,293.6 290.2,293.6 305.8,293.7 321.4,293.8 336.9,293.9 352.5,293.9" fill="none" stroke="#773c3c" stroke-width="1.4" stroke-linejoin="round"/>
<path d="M210.5 293.6l3.2 -1.9v3.8z" fill="#773c3c"/><path d="M226.1 293.6l3.2 -1.9v3.8z" fill="#773c3c"/><path d="M241.6 293.6l3.2 -1.9v3.8z" fill="#773c3c"/><path d="M257.2 293.9l3.2 -1.9v3.8z" fill="#773c3c"/><path d="M272.8 293.6l3.2 -1.9v3.8z" fill="#773c3c"/><path d="M288.3 293.6l3.2 -1.9v3.8z" fill="#773c3c"/><path d="M303.9 293.7l3.2 -1.9v3.8z" fill="#773c3c"/><path d="M319.5 293.8l3.2 -1.9v3.8z" fill="#773c3c"/><path d="M335.0 293.9l3.2 -1.9v3.8z" fill="#773c3c"/><path d="M350.6 293.9l3.2 -1.9v3.8z" fill="#773c3c"/>
<polyline points="212.4,295.4 228.0,316.5 243.5,316.5 259.1,316.5 274.7,316.5 290.2,316.5 305.8,316.5 321.4,316.5 336.9,316.5 352.5,316.5" fill="none" stroke="#f4aecb" stroke-width="1.4" stroke-linejoin="round"/>
<path d="M214.3 295.4l-3.2 -1.9v3.8z" fill="#f4aecb"/><path d="M229.9 316.5l-3.2 -1.9v3.8z" fill="#f4aecb"/><path d="M245.4 316.5l-3.2 -1.9v3.8z" fill="#f4aecb"/><path d="M261.0 316.5l-3.2 -1.9v3.8z" fill="#f4aecb"/><path d="M276.6 316.5l-3.2 -1.9v3.8z" fill="#f4aecb"/><path d="M292.1 316.5l-3.2 -1.9v3.8z" fill="#f4aecb"/><path d="M307.7 316.5l-3.2 -1.9v3.8z" fill="#f4aecb"/><path d="M323.3 316.5l-3.2 -1.9v3.8z" fill="#f4aecb"/><path d="M338.8 316.5l-3.2 -1.9v3.8z" fill="#f4aecb"/><path d="M354.4 316.5l-3.2 -1.9v3.8z" fill="#f4aecb"/>
<rect x="212.4" y="188.4" width="140.1" height="128.1" fill="none" stroke="#858585" stroke-width="1.0"/>
<path d="M222.8 316.5v-1.4M222.8 188.4v1.4M248.7 316.5v-1.4M248.7 188.4v1.4M274.7 316.5v-1.4M274.7 188.4v1.4M300.6 316.5v-1.4M300.6 188.4v1.4M326.6 316.5v-1.4M326.6 188.4v1.4M352.5 316.5v-1.4M352.5 188.4v1.4M212.4 296.0h1.4M352.5 296.0h-1.4M212.4 272.0h1.4M352.5 272.0h-1.4M212.4 248.0h1.4M352.5 248.0h-1.4M212.4 224.0h1.4M352.5 224.0h-1.4M212.4 200.0h1.4M352.5 200.0h-1.4" stroke="#555" stroke-width="0.6" fill="none"/>
<text x="222.8" y="328.8" font-size="8.15" text-anchor="middle" fill="#262626">0.5</text>
<text x="248.7" y="328.8" font-size="8.15" text-anchor="middle" fill="#262626">1</text>
<text x="274.7" y="328.8" font-size="8.15" text-anchor="middle" fill="#262626">1.5</text>
<text x="300.6" y="328.8" font-size="8.15" text-anchor="middle" fill="#262626">2</text>
<text x="326.6" y="328.8" font-size="8.15" text-anchor="middle" fill="#262626">2.5</text>
<text x="352.5" y="328.8" font-size="8.15" text-anchor="middle" fill="#262626">3</text>
<text x="207.8" y="298.8" font-size="8.15" text-anchor="end" fill="#262626">4</text>
<text x="207.8" y="274.8" font-size="8.15" text-anchor="end" fill="#262626">5</text>
<text x="207.8" y="250.8" font-size="8.15" text-anchor="end" fill="#262626">6</text>
<text x="207.8" y="226.8" font-size="8.15" text-anchor="end" fill="#262626">7</text>
<text x="207.8" y="202.8" font-size="8.15" text-anchor="end" fill="#262626">8</text>
<text x="282.4" y="185.8" font-size="9.4" text-anchor="middle" fill="#262626">CF17_F13</text>
<text x="213.5" y="339.1" font-size="9.35" fill="#262626">Number of function evaluations</text>
<text x="335.2" y="340.7" font-size="8.3" fill="#333">&#215;10</text>
<text x="348.9" y="338.0" font-size="6.6" fill="#333">4</text>
<text transform="translate(199.7 252.8) rotate(-90)" font-size="9.35" text-anchor="middle" fill="#262626">log10(Minimum value)</text>
<polyline points="402.5,288.8 418.2,293.9 433.8,299.0 449.5,300.9 465.2,300.9 480.8,300.9 496.5,301.0 512.2,301.0 527.8,301.1 543.5,301.2" fill="none" stroke="#444444" stroke-width="1.4" stroke-linejoin="round"/>
<path d="M402.5 286.9l1.9 3.2h-3.8z" fill="#444444"/><path d="M418.2 292.0l1.9 3.2h-3.8z" fill="#444444"/><path d="M433.8 297.1l1.9 3.2h-3.8z" fill="#444444"/><path d="M449.5 299.0l1.9 3.2h-3.8z" fill="#444444"/><path d="M465.2 299.0l1.9 3.2h-3.8z" fill="#444444"/><path d="M480.8 299.0l1.9 3.2h-3.8z" fill="#444444"/><path d="M496.5 299.1l1.9 3.2h-3.8z" fill="#444444"/><path d="M512.2 299.1l1.9 3.2h-3.8z" fill="#444444"/><path d="M527.8 299.2l1.9 3.2h-3.8z" fill="#444444"/><path d="M543.5 299.3l1.9 3.2h-3.8z" fill="#444444"/>
<polyline points="402.5,293.9 418.2,296.8 433.8,299.0 449.5,300.0 465.2,300.5 480.8,300.9 496.5,300.9 512.2,301.0 527.8,301.1 543.5,301.2" fill="none" stroke="#2c6ef2" stroke-width="1.4" stroke-linejoin="round"/>
<circle cx="402.5" cy="293.9" r="1.3" fill="#2c6ef2"/><circle cx="418.2" cy="296.8" r="1.3" fill="#2c6ef2"/><circle cx="433.8" cy="299.0" r="1.3" fill="#2c6ef2"/><circle cx="449.5" cy="300.0" r="1.3" fill="#2c6ef2"/><circle cx="465.2" cy="300.5" r="1.3" fill="#2c6ef2"/><circle cx="480.8" cy="300.9" r="1.3" fill="#2c6ef2"/><circle cx="496.5" cy="300.9" r="1.3" fill="#2c6ef2"/><circle cx="512.2" cy="301.0" r="1.3" fill="#2c6ef2"/><circle cx="527.8" cy="301.1" r="1.3" fill="#2c6ef2"/><circle cx="543.5" cy="301.2" r="1.3" fill="#2c6ef2"/>
<polyline points="402.5,265.5 418.2,268.9 433.8,274.3 449.5,274.7 465.2,276.2 480.8,277.9 496.5,280.5 512.2,281.5 527.8,283.4 543.5,287.8" fill="none" stroke="#35b86c" stroke-width="1.3" stroke-linejoin="round" stroke-dasharray="3.6,1.2,1.3,1.2"/>
<polyline points="402.5,298.0 418.2,302.6 433.8,304.8 449.5,306.3 465.2,306.8 480.8,307.0 496.5,307.2 512.2,307.4 527.8,307.5 543.5,307.6" fill="none" stroke="#9f62ee" stroke-width="1.4" stroke-linejoin="round"/>
<path d="M402.5 299.9l1.9 -3.2h-3.8z" fill="#9f62ee"/><path d="M418.2 304.5l1.9 -3.2h-3.8z" fill="#9f62ee"/><path d="M433.8 306.7l1.9 -3.2h-3.8z" fill="#9f62ee"/><path d="M449.5 308.2l1.9 -3.2h-3.8z" fill="#9f62ee"/><path d="M465.2 308.7l1.9 -3.2h-3.8z" fill="#9f62ee"/><path d="M480.8 308.9l1.9 -3.2h-3.8z" fill="#9f62ee"/><path d="M496.5 309.1l1.9 -3.2h-3.8z" fill="#9f62ee"/><path d="M512.2 309.3l1.9 -3.2h-3.8z" fill="#9f62ee"/><path d="M527.8 309.4l1.9 -3.2h-3.8z" fill="#9f62ee"/><path d="M543.5 309.5l1.9 -3.2h-3.8z" fill="#9f62ee"/>
<polyline points="402.5,284.2 418.2,284.9 433.8,285.5 449.5,294.2 465.2,295.4 480.8,297.0 496.5,297.8 512.2,298.0 527.8,298.0 543.5,298.0" fill="none" stroke="#d89f16" stroke-width="1.4" stroke-linejoin="round"/>
<circle cx="402.5" cy="284.2" r="1.3" fill="#d89f16"/><circle cx="418.2" cy="284.9" r="1.3" fill="#d89f16"/><circle cx="433.8" cy="285.5" r="1.3" fill="#d89f16"/><circle cx="449.5" cy="294.2" r="1.3" fill="#d89f16"/><circle cx="465.2" cy="295.4" r="1.3" fill="#d89f16"/><circle cx="480.8" cy="297.0" r="1.3" fill="#d89f16"/><circle cx="496.5" cy="297.8" r="1.3" fill="#d89f16"/><circle cx="512.2" cy="298.0" r="1.3" fill="#d89f16"/><circle cx="527.8" cy="298.0" r="1.3" fill="#d89f16"/><circle cx="543.5" cy="298.0" r="1.3" fill="#d89f16"/>
<polyline points="402.5,188.5 418.2,191.4 433.8,232.2 449.5,267.0 465.2,293.9 480.8,299.0 496.5,300.0 512.2,300.9 527.8,300.9 543.5,299.4" fill="none" stroke="#16c4cc" stroke-width="1.4" stroke-linejoin="round"/>
<path d="M402.5 186.6l1.5 1.9l-1.5 1.9l-1.5 -1.9z" fill="#16c4cc"/><path d="M418.2 189.5l1.5 1.9l-1.5 1.9l-1.5 -1.9z" fill="#16c4cc"/><path d="M433.8 230.3l1.5 1.9l-1.5 1.9l-1.5 -1.9z" fill="#16c4cc"/><path d="M449.5 265.1l1.5 1.9l-1.5 1.9l-1.5 -1.9z" fill="#16c4cc"/><path d="M465.2 292.0l1.5 1.9l-1.5 1.9l-1.5 -1.9z" fill="#16c4cc"/><path d="M480.8 297.1l1.5 1.9l-1.5 1.9l-1.5 -1.9z" fill="#16c4cc"/><path d="M496.5 298.1l1.5 1.9l-1.5 1.9l-1.5 -1.9z" fill="#16c4cc"/><path d="M512.2 299.0l1.5 1.9l-1.5 1.9l-1.5 -1.9z" fill="#16c4cc"/><path d="M527.8 299.0l1.5 1.9l-1.5 1.9l-1.5 -1.9z" fill="#16c4cc"/><path d="M543.5 297.5l1.5 1.9l-1.5 1.9l-1.5 -1.9z" fill="#16c4cc"/>
<polyline points="402.5,297.5 418.2,301.9 433.8,304.1 449.5,305.3 465.2,305.8 480.8,306.5 496.5,306.8 512.2,307.0 527.8,307.2 543.5,307.4" fill="none" stroke="#8a960c" stroke-width="1.4" stroke-linejoin="round"/>
<path d="M402.5 295.6l1.9 3.2h-3.8z" fill="#8a960c"/><path d="M418.2 300.0l1.9 3.2h-3.8z" fill="#8a960c"/><path d="M433.8 302.2l1.9 3.2h-3.8z" fill="#8a960c"/><path d="M449.5 303.4l1.9 3.2h-3.8z" fill="#8a960c"/><path d="M465.2 303.9l1.9 3.2h-3.8z" fill="#8a960c"/><path d="M480.8 304.6l1.9 3.2h-3.8z" fill="#8a960c"/><path d="M496.5 304.9l1.9 3.2h-3.8z" fill="#8a960c"/><path d="M512.2 305.1l1.9 3.2h-3.8z" fill="#8a960c"/><path d="M527.8 305.3l1.9 3.2h-3.8z" fill="#8a960c"/><path d="M543.5 305.5l1.9 3.2h-3.8z" fill="#8a960c"/>
<polyline points="402.5,292.5 418.2,301.2 433.8,304.1 449.5,305.8 465.2,306.3 480.8,306.6 496.5,306.8 512.2,307.0 527.8,307.0 543.5,307.0" fill="none" stroke="#f2ee08" stroke-width="1.6" stroke-linejoin="round"/>
<polyline points="402.5,290.3 418.2,293.2 433.8,293.9 449.5,294.6 465.2,295.7 480.8,297.1 496.5,297.5 512.2,298.3 527.8,299.0 543.5,301.2" fill="none" stroke="#773c3c" stroke-width="1.4" stroke-linejoin="round"/>
<path d="M400.6 290.3l3.2 -1.9v3.8z" fill="#773c3c"/><path d="M416.3 293.2l3.2 -1.9v3.8z" fill="#773c3c"/><path d="M431.9 293.9l3.2 -1.9v3.8z" fill="#773c3c"/><path d="M447.6 294.6l3.2 -1.9v3.8z" fill="#773c3c"/><path d="M463.3 295.7l3.2 -1.9v3.8z" fill="#773c3c"/><path d="M478.9 297.1l3.2 -1.9v3.8z" fill="#773c3c"/><path d="M494.6 297.5l3.2 -1.9v3.8z" fill="#773c3c"/><path d="M510.3 298.3l3.2 -1.9v3.8z" fill="#773c3c"/><path d="M525.9 299.0l3.2 -1.9v3.8z" fill="#773c3c"/><path d="M541.6 301.2l3.2 -1.9v3.8z" fill="#773c3c"/>
<polyline points="402.5,299.7 418.2,308.5 433.8,313.5 449.5,315.7 465.2,316.0 480.8,316.2 496.5,316.3 512.2,316.4 527.8,316.5 543.5,316.5" fill="none" stroke="#f4aecb" stroke-width="1.4" stroke-linejoin="round"/>
<path d="M404.4 299.7l-3.2 -1.9v3.8z" fill="#f4aecb"/><path d="M420.1 308.5l-3.2 -1.9v3.8z" fill="#f4aecb"/><path d="M435.7 313.5l-3.2 -1.9v3.8z" fill="#f4aecb"/><path d="M451.4 315.7l-3.2 -1.9v3.8z" fill="#f4aecb"/><path d="M467.1 316.0l-3.2 -1.9v3.8z" fill="#f4aecb"/><path d="M482.7 316.2l-3.2 -1.9v3.8z" fill="#f4aecb"/><path d="M498.4 316.3l-3.2 -1.9v3.8z" fill="#f4aecb"/><path d="M514.1 316.4l-3.2 -1.9v3.8z" fill="#f4aecb"/><path d="M529.7 316.5l-3.2 -1.9v3.8z" fill="#f4aecb"/><path d="M545.4 316.5l-3.2 -1.9v3.8z" fill="#f4aecb"/>
<rect x="402.5" y="188.3" width="141.0" height="128.2" fill="none" stroke="#858585" stroke-width="1.0"/>
<path d="M412.9 316.5v-1.4M412.9 188.3v1.4M439.1 316.5v-1.4M439.1 188.3v1.4M465.2 316.5v-1.4M465.2 188.3v1.4M491.3 316.5v-1.4M491.3 188.3v1.4M517.4 316.5v-1.4M517.4 188.3v1.4M543.5 316.5v-1.4M543.5 188.3v1.4M402.5 308.6h1.4M543.5 308.6h-1.4M402.5 289.6h1.4M543.5 289.6h-1.4M402.5 270.6h1.4M543.5 270.6h-1.4M402.5 251.5h1.4M543.5 251.5h-1.4M402.5 232.5h1.4M543.5 232.5h-1.4M402.5 213.5h1.4M543.5 213.5h-1.4M402.5 194.4h1.4M543.5 194.4h-1.4" stroke="#555" stroke-width="0.6" fill="none"/>
<text x="412.9" y="328.8" font-size="8.15" text-anchor="middle" fill="#262626">0.5</text>
<text x="439.1" y="328.8" font-size="8.15" text-anchor="middle" fill="#262626">1</text>
<text x="465.2" y="328.8" font-size="8.15" text-anchor="middle" fill="#262626">1.5</text>
<text x="491.3" y="328.8" font-size="8.15" text-anchor="middle" fill="#262626">2</text>
<text x="517.4" y="328.8" font-size="8.15" text-anchor="middle" fill="#262626">2.5</text>
<text x="543.5" y="328.8" font-size="8.15" text-anchor="middle" fill="#262626">3</text>
<text x="397.9" y="311.4" font-size="8.15" text-anchor="end" fill="#262626">3.24</text>
<text x="397.9" y="292.4" font-size="8.15" text-anchor="end" fill="#262626">3.26</text>
<text x="397.9" y="273.4" font-size="8.15" text-anchor="end" fill="#262626">3.28</text>
<text x="397.9" y="254.3" font-size="8.15" text-anchor="end" fill="#262626">3.3</text>
<text x="397.9" y="235.3" font-size="8.15" text-anchor="end" fill="#262626">3.32</text>
<text x="397.9" y="216.3" font-size="8.15" text-anchor="end" fill="#262626">3.34</text>
<text x="397.9" y="197.2" font-size="8.15" text-anchor="end" fill="#262626">3.36</text>
<text x="473.0" y="185.7" font-size="9.4" text-anchor="middle" fill="#262626">CF17_F17</text>
<text x="403.5" y="339.1" font-size="9.35" fill="#262626">Number of function evaluations</text>
<text x="526.2" y="340.7" font-size="8.3" fill="#333">&#215;10</text>
<text x="539.9" y="338.0" font-size="6.6" fill="#333">4</text>
<text transform="translate(379.6 252.7) rotate(-90)" font-size="9.35" text-anchor="middle" fill="#262626">log10(Minimum value)</text>
<polyline points="38.2,403.1 53.8,430.2 69.4,450.7 85.0,452.6 100.6,452.6 116.1,452.6 131.7,452.7 147.3,452.8 162.9,452.9 178.5,452.9" fill="none" stroke="#444444" stroke-width="1.4" stroke-linejoin="round"/>
<path d="M38.2 401.2l1.9 3.2h-3.8z" fill="#444444"/><path d="M53.8 428.3l1.9 3.2h-3.8z" fill="#444444"/><path d="M69.4 448.8l1.9 3.2h-3.8z" fill="#444444"/><path d="M85.0 450.7l1.9 3.2h-3.8z" fill="#444444"/><path d="M100.6 450.7l1.9 3.2h-3.8z" fill="#444444"/><path d="M116.1 450.7l1.9 3.2h-3.8z" fill="#444444"/><path d="M131.7 450.8l1.9 3.2h-3.8z" fill="#444444"/><path d="M147.3 450.9l1.9 3.2h-3.8z" fill="#444444"/><path d="M162.9 451.0l1.9 3.2h-3.8z" fill="#444444"/><path d="M178.5 451.0l1.9 3.2h-3.8z" fill="#444444"/>
<polyline points="38.2,436.2 53.8,441.0 69.4,443.5 85.0,446.8 100.6,448.5 116.1,451.2 131.7,451.7 147.3,452.2 162.9,452.2 178.5,452.2" fill="none" stroke="#2c6ef2" stroke-width="1.4" stroke-linejoin="round"/>
<circle cx="38.2" cy="436.2" r="1.3" fill="#2c6ef2"/><circle cx="53.8" cy="441.0" r="1.3" fill="#2c6ef2"/><circle cx="69.4" cy="443.5" r="1.3" fill="#2c6ef2"/><circle cx="85.0" cy="446.8" r="1.3" fill="#2c6ef2"/><circle cx="100.6" cy="448.5" r="1.3" fill="#2c6ef2"/><circle cx="116.1" cy="451.2" r="1.3" fill="#2c6ef2"/><circle cx="131.7" cy="451.7" r="1.3" fill="#2c6ef2"/><circle cx="147.3" cy="452.2" r="1.3" fill="#2c6ef2"/><circle cx="162.9" cy="452.2" r="1.3" fill="#2c6ef2"/><circle cx="178.5" cy="452.2" r="1.3" fill="#2c6ef2"/>
<polyline points="38.2,408.9 53.8,408.6 69.4,411.1 85.0,413.0 100.6,415.9 116.1,415.9 131.7,419.4 147.3,420.3 162.9,423.2 178.5,425.2" fill="none" stroke="#35b86c" stroke-width="1.3" stroke-linejoin="round" stroke-dasharray="3.6,1.2,1.3,1.2"/>
<polyline points="38.2,454.1 53.8,475.5 69.4,483.5 85.0,486.1 100.6,487.5 116.1,488.1 131.7,488.2 147.3,488.3 162.9,488.4 178.5,488.5" fill="none" stroke="#9f62ee" stroke-width="1.4" stroke-linejoin="round"/>
<path d="M38.2 456.0l1.9 -3.2h-3.8z" fill="#9f62ee"/><path d="M53.8 477.4l1.9 -3.2h-3.8z" fill="#9f62ee"/><path d="M69.4 485.4l1.9 -3.2h-3.8z" fill="#9f62ee"/><path d="M85.0 488.0l1.9 -3.2h-3.8z" fill="#9f62ee"/><path d="M100.6 489.4l1.9 -3.2h-3.8z" fill="#9f62ee"/><path d="M116.1 490.0l1.9 -3.2h-3.8z" fill="#9f62ee"/><path d="M131.7 490.1l1.9 -3.2h-3.8z" fill="#9f62ee"/><path d="M147.3 490.2l1.9 -3.2h-3.8z" fill="#9f62ee"/><path d="M162.9 490.3l1.9 -3.2h-3.8z" fill="#9f62ee"/><path d="M178.5 490.4l1.9 -3.2h-3.8z" fill="#9f62ee"/>
<polyline points="38.2,460.5 53.8,461.3 69.4,462.4 85.0,467.2 100.6,468.6 116.1,468.6 131.7,468.6 147.3,468.6 162.9,468.6 178.5,468.6" fill="none" stroke="#d89f16" stroke-width="1.4" stroke-linejoin="round"/>
<circle cx="38.2" cy="460.5" r="1.3" fill="#d89f16"/><circle cx="53.8" cy="461.3" r="1.3" fill="#d89f16"/><circle cx="69.4" cy="462.4" r="1.3" fill="#d89f16"/><circle cx="85.0" cy="467.2" r="1.3" fill="#d89f16"/><circle cx="100.6" cy="468.6" r="1.3" fill="#d89f16"/><circle cx="116.1" cy="468.6" r="1.3" fill="#d89f16"/><circle cx="131.7" cy="468.6" r="1.3" fill="#d89f16"/><circle cx="147.3" cy="468.6" r="1.3" fill="#d89f16"/><circle cx="162.9" cy="468.6" r="1.3" fill="#d89f16"/><circle cx="178.5" cy="468.6" r="1.3" fill="#d89f16"/>
<polyline points="38.2,363.5 53.8,392.2 69.4,408.9 85.0,438.4 100.6,468.9 116.1,477.3 131.7,478.8 147.3,478.8 162.9,478.8 178.5,478.8" fill="none" stroke="#16c4cc" stroke-width="1.4" stroke-linejoin="round"/>
<path d="M38.2 361.6l1.5 1.9l-1.5 1.9l-1.5 -1.9z" fill="#16c4cc"/><path d="M53.8 390.3l1.5 1.9l-1.5 1.9l-1.5 -1.9z" fill="#16c4cc"/><path d="M69.4 407.0l1.5 1.9l-1.5 1.9l-1.5 -1.9z" fill="#16c4cc"/><path d="M85.0 436.5l1.5 1.9l-1.5 1.9l-1.5 -1.9z" fill="#16c4cc"/><path d="M100.6 467.0l1.5 1.9l-1.5 1.9l-1.5 -1.9z" fill="#16c4cc"/><path d="M116.1 475.4l1.5 1.9l-1.5 1.9l-1.5 -1.9z" fill="#16c4cc"/><path d="M131.7 476.9l1.5 1.9l-1.5 1.9l-1.5 -1.9z" fill="#16c4cc"/><path d="M147.3 476.9l1.5 1.9l-1.5 1.9l-1.5 -1.9z" fill="#16c4cc"/><path d="M162.9 476.9l1.5 1.9l-1.5 1.9l-1.5 -1.9z" fill="#16c4cc"/><path d="M178.5 476.9l1.5 1.9l-1.5 1.9l-1.5 -1.9z" fill="#16c4cc"/>
<polyline points="38.2,455.5 53.8,472.5 69.4,480.3 85.0,482.3 100.6,483.7 116.1,484.9 131.7,485.2 147.3,485.6 162.9,486.1 178.5,486.1" fill="none" stroke="#8a960c" stroke-width="1.4" stroke-linejoin="round"/>
<path d="M38.2 453.6l1.9 3.2h-3.8z" fill="#8a960c"/><path d="M53.8 470.6l1.9 3.2h-3.8z" fill="#8a960c"/><path d="M69.4 478.4l1.9 3.2h-3.8z" fill="#8a960c"/><path d="M85.0 480.4l1.9 3.2h-3.8z" fill="#8a960c"/><path d="M100.6 481.8l1.9 3.2h-3.8z" fill="#8a960c"/><path d="M116.1 483.0l1.9 3.2h-3.8z" fill="#8a960c"/><path d="M131.7 483.3l1.9 3.2h-3.8z" fill="#8a960c"/><path d="M147.3 483.7l1.9 3.2h-3.8z" fill="#8a960c"/><path d="M162.9 484.2l1.9 3.2h-3.8z" fill="#8a960c"/><path d="M178.5 484.2l1.9 3.2h-3.8z" fill="#8a960c"/>
<polyline points="38.2,448.5 53.8,474.0 69.4,479.8 85.0,480.5 100.6,481.3 116.1,481.3 131.7,481.3 147.3,481.3 162.9,481.3 178.5,481.3" fill="none" stroke="#f2ee08" stroke-width="1.6" stroke-linejoin="round"/>
<polyline points="38.2,432.4 53.8,432.4 69.4,432.7 85.0,433.1 100.6,433.3 116.1,433.3 131.7,435.5 147.3,442.7 162.9,449.3 178.5,455.1" fill="none" stroke="#773c3c" stroke-width="1.4" stroke-linejoin="round"/>
<path d="M36.3 432.4l3.2 -1.9v3.8z" fill="#773c3c"/><path d="M51.9 432.4l3.2 -1.9v3.8z" fill="#773c3c"/><path d="M67.5 432.7l3.2 -1.9v3.8z" fill="#773c3c"/><path d="M83.1 433.1l3.2 -1.9v3.8z" fill="#773c3c"/><path d="M98.7 433.3l3.2 -1.9v3.8z" fill="#773c3c"/><path d="M114.2 433.3l3.2 -1.9v3.8z" fill="#773c3c"/><path d="M129.8 435.5l3.2 -1.9v3.8z" fill="#773c3c"/><path d="M145.4 442.7l3.2 -1.9v3.8z" fill="#773c3c"/><path d="M161.0 449.3l3.2 -1.9v3.8z" fill="#773c3c"/><path d="M176.6 455.1l3.2 -1.9v3.8z" fill="#773c3c"/>
<polyline points="38.2,458.0 53.8,476.2 69.4,484.9 85.0,490.7 100.6,491.9 116.1,491.9 131.7,491.9 147.3,491.9 162.9,491.9 178.5,491.9" fill="none" stroke="#f4aecb" stroke-width="1.4" stroke-linejoin="round"/>
<path d="M40.1 458.0l-3.2 -1.9v3.8z" fill="#f4aecb"/><path d="M55.7 476.2l-3.2 -1.9v3.8z" fill="#f4aecb"/><path d="M71.3 484.9l-3.2 -1.9v3.8z" fill="#f4aecb"/><path d="M86.9 490.7l-3.2 -1.9v3.8z" fill="#f4aecb"/><path d="M102.5 491.9l-3.2 -1.9v3.8z" fill="#f4aecb"/><path d="M118.0 491.9l-3.2 -1.9v3.8z" fill="#f4aecb"/><path d="M133.6 491.9l-3.2 -1.9v3.8z" fill="#f4aecb"/><path d="M149.2 491.9l-3.2 -1.9v3.8z" fill="#f4aecb"/><path d="M164.8 491.9l-3.2 -1.9v3.8z" fill="#f4aecb"/><path d="M180.4 491.9l-3.2 -1.9v3.8z" fill="#f4aecb"/>
<rect x="38.2" y="363.9" width="140.3" height="128.1" fill="none" stroke="#858585" stroke-width="1.0"/>
<path d="M48.6 492.0v-1.4M48.6 363.9v1.4M74.6 492.0v-1.4M74.6 363.9v1.4M100.6 492.0v-1.4M100.6 363.9v1.4M126.5 492.0v-1.4M126.5 363.9v1.4M152.5 492.0v-1.4M152.5 363.9v1.4M178.5 492.0v-1.4M178.5 363.9v1.4M38.2 468.2h1.4M178.5 468.2h-1.4M38.2 433.7h1.4M178.5 433.7h-1.4M38.2 399.1h1.4M178.5 399.1h-1.4M38.2 364.6h1.4M178.5 364.6h-1.4" stroke="#555" stroke-width="0.6" fill="none"/>
<text x="48.6" y="504.3" font-size="8.15" text-anchor="middle" fill="#262626">0.5</text>
<text x="74.6" y="504.3" font-size="8.15" text-anchor="middle" fill="#262626">1</text>
<text x="100.6" y="504.3" font-size="8.15" text-anchor="middle" fill="#262626">1.5</text>
<text x="126.5" y="504.3" font-size="8.15" text-anchor="middle" fill="#262626">2</text>
<text x="152.5" y="504.3" font-size="8.15" text-anchor="middle" fill="#262626">2.5</text>
<text x="178.5" y="504.3" font-size="8.15" text-anchor="middle" fill="#262626">3</text>
<text x="33.6" y="471.0" font-size="8.15" text-anchor="end" fill="#262626">3.42</text>
<text x="33.6" y="436.5" font-size="8.15" text-anchor="end" fill="#262626">3.425</text>
<text x="33.6" y="401.9" font-size="8.15" text-anchor="end" fill="#262626">3.43</text>
<text x="33.6" y="367.4" font-size="8.15" text-anchor="end" fill="#262626">3.435</text>
<text x="108.3" y="361.3" font-size="9.4" text-anchor="middle" fill="#262626">CF17_F23</text>
<text x="39.5" y="514.6" font-size="9.35" fill="#262626">Number of function evaluations</text>
<text x="161.2" y="516.2" font-size="8.3" fill="#333">&#215;10</text>
<text x="174.9" y="513.5" font-size="6.6" fill="#333">4</text>
<text transform="translate(11.3 428.2) rotate(-90)" font-size="9.35" text-anchor="middle" fill="#262626">log10(Minimum value)</text>
<polyline points="219.2,369.5 234.8,453.5 250.4,463.3 266.1,464.7 281.7,464.7 297.3,464.7 312.9,464.7 328.6,464.7 344.2,464.7 359.8,464.7" fill="none" stroke="#444444" stroke-width="1.4" stroke-linejoin="round"/>
<path d="M219.2 367.6l1.9 3.2h-3.8z" fill="#444444"/><path d="M234.8 451.6l1.9 3.2h-3.8z" fill="#444444"/><path d="M250.4 461.4l1.9 3.2h-3.8z" fill="#444444"/><path d="M266.1 462.8l1.9 3.2h-3.8z" fill="#444444"/><path d="M281.7 462.8l1.9 3.2h-3.8z" fill="#444444"/><path d="M297.3 462.8l1.9 3.2h-3.8z" fill="#444444"/><path d="M312.9 462.8l1.9 3.2h-3.8z" fill="#444444"/><path d="M328.6 462.8l1.9 3.2h-3.8z" fill="#444444"/><path d="M344.2 462.8l1.9 3.2h-3.8z" fill="#444444"/><path d="M359.8 462.8l1.9 3.2h-3.8z" fill="#444444"/>
<polyline points="219.2,432.4 234.8,442.2 250.4,449.5 266.1,450.2 281.7,452.0 297.3,453.8 312.9,458.6 328.6,458.6 344.2,458.6 359.8,458.9" fill="none" stroke="#2c6ef2" stroke-width="1.4" stroke-linejoin="round"/>
<circle cx="219.2" cy="432.4" r="1.3" fill="#2c6ef2"/><circle cx="234.8" cy="442.2" r="1.3" fill="#2c6ef2"/><circle cx="250.4" cy="449.5" r="1.3" fill="#2c6ef2"/><circle cx="266.1" cy="450.2" r="1.3" fill="#2c6ef2"/><circle cx="281.7" cy="452.0" r="1.3" fill="#2c6ef2"/><circle cx="297.3" cy="453.8" r="1.3" fill="#2c6ef2"/><circle cx="312.9" cy="458.6" r="1.3" fill="#2c6ef2"/><circle cx="328.6" cy="458.6" r="1.3" fill="#2c6ef2"/><circle cx="344.2" cy="458.6" r="1.3" fill="#2c6ef2"/><circle cx="359.8" cy="458.9" r="1.3" fill="#2c6ef2"/>
<polyline points="219.2,442.2 234.8,445.5 250.4,448.0 266.1,449.9 281.7,450.7 297.3,450.5 312.9,450.5 328.6,454.3 344.2,454.8 359.8,456.7" fill="none" stroke="#35b86c" stroke-width="1.3" stroke-linejoin="round" stroke-dasharray="3.6,1.2,1.3,1.2"/>
<polyline points="219.2,470.8 234.8,486.3 250.4,488.7 266.1,490.9 281.7,491.6 297.3,492.7 312.9,493.0 328.6,493.3 344.2,493.5 359.8,493.8" fill="none" stroke="#9f62ee" stroke-width="1.4" stroke-linejoin="round"/>
<path d="M219.2 472.7l1.9 -3.2h-3.8z" fill="#9f62ee"/><path d="M234.8 488.2l1.9 -3.2h-3.8z" fill="#9f62ee"/><path d="M250.4 490.6l1.9 -3.2h-3.8z" fill="#9f62ee"/><path d="M266.1 492.8l1.9 -3.2h-3.8z" fill="#9f62ee"/><path d="M281.7 493.5l1.9 -3.2h-3.8z" fill="#9f62ee"/><path d="M297.3 494.6l1.9 -3.2h-3.8z" fill="#9f62ee"/><path d="M312.9 494.9l1.9 -3.2h-3.8z" fill="#9f62ee"/><path d="M328.6 495.2l1.9 -3.2h-3.8z" fill="#9f62ee"/><path d="M344.2 495.4l1.9 -3.2h-3.8z" fill="#9f62ee"/><path d="M359.8 495.7l1.9 -3.2h-3.8z" fill="#9f62ee"/>
<polyline points="219.2,389.5 234.8,394.8 250.4,396.0 266.1,452.8 281.7,455.3 297.3,455.3 312.9,455.4 328.6,455.5 344.2,455.6 359.8,455.7" fill="none" stroke="#d89f16" stroke-width="1.4" stroke-linejoin="round"/>
<circle cx="219.2" cy="389.5" r="1.3" fill="#d89f16"/><circle cx="234.8" cy="394.8" r="1.3" fill="#d89f16"/><circle cx="250.4" cy="396.0" r="1.3" fill="#d89f16"/><circle cx="266.1" cy="452.8" r="1.3" fill="#d89f16"/><circle cx="281.7" cy="455.3" r="1.3" fill="#d89f16"/><circle cx="297.3" cy="455.3" r="1.3" fill="#d89f16"/><circle cx="312.9" cy="455.4" r="1.3" fill="#d89f16"/><circle cx="328.6" cy="455.5" r="1.3" fill="#d89f16"/><circle cx="344.2" cy="455.6" r="1.3" fill="#d89f16"/><circle cx="359.8" cy="455.7" r="1.3" fill="#d89f16"/>
<polyline points="219.2,378.5 234.8,407.3 250.4,438.0 266.1,459.6 281.7,475.6 297.3,479.3 312.9,479.3 328.6,479.3 344.2,479.3 359.8,479.3" fill="none" stroke="#16c4cc" stroke-width="1.4" stroke-linejoin="round"/>
<path d="M219.2 376.6l1.5 1.9l-1.5 1.9l-1.5 -1.9z" fill="#16c4cc"/><path d="M234.8 405.4l1.5 1.9l-1.5 1.9l-1.5 -1.9z" fill="#16c4cc"/><path d="M250.4 436.1l1.5 1.9l-1.5 1.9l-1.5 -1.9z" fill="#16c4cc"/><path d="M266.1 457.7l1.5 1.9l-1.5 1.9l-1.5 -1.9z" fill="#16c4cc"/><path d="M281.7 473.7l1.5 1.9l-1.5 1.9l-1.5 -1.9z" fill="#16c4cc"/><path d="M297.3 477.4l1.5 1.9l-1.5 1.9l-1.5 -1.9z" fill="#16c4cc"/><path d="M312.9 477.4l1.5 1.9l-1.5 1.9l-1.5 -1.9z" fill="#16c4cc"/><path d="M328.6 477.4l1.5 1.9l-1.5 1.9l-1.5 -1.9z" fill="#16c4cc"/><path d="M344.2 477.4l1.5 1.9l-1.5 1.9l-1.5 -1.9z" fill="#16c4cc"/><path d="M359.8 477.4l1.5 1.9l-1.5 1.9l-1.5 -1.9z" fill="#16c4cc"/>
<polyline points="219.2,485.8 234.8,488.3 250.4,489.5 266.1,490.2 281.7,490.6 297.3,490.6 312.9,490.6 328.6,490.6 344.2,490.6 359.8,490.6" fill="none" stroke="#8a960c" stroke-width="1.4" stroke-linejoin="round"/>
<path d="M219.2 483.9l1.9 3.2h-3.8z" fill="#8a960c"/><path d="M234.8 486.4l1.9 3.2h-3.8z" fill="#8a960c"/><path d="M250.4 487.6l1.9 3.2h-3.8z" fill="#8a960c"/><path d="M266.1 488.3l1.9 3.2h-3.8z" fill="#8a960c"/><path d="M281.7 488.7l1.9 3.2h-3.8z" fill="#8a960c"/><path d="M297.3 488.7l1.9 3.2h-3.8z" fill="#8a960c"/><path d="M312.9 488.7l1.9 3.2h-3.8z" fill="#8a960c"/><path d="M328.6 488.7l1.9 3.2h-3.8z" fill="#8a960c"/><path d="M344.2 488.7l1.9 3.2h-3.8z" fill="#8a960c"/><path d="M359.8 488.7l1.9 3.2h-3.8z" fill="#8a960c"/>
<polyline points="219.2,469.4 234.8,479.3 250.4,481.0 266.1,481.5 281.7,481.7 297.3,481.9 312.9,481.9 328.6,481.9 344.2,481.9 359.8,481.9" fill="none" stroke="#f2ee08" stroke-width="1.6" stroke-linejoin="round"/>
<polyline points="219.2,410.8 234.8,426.8 250.4,426.8 266.1,426.8 281.7,434.8 297.3,434.5 312.9,443.2 328.6,449.9 344.2,451.9 359.8,465.5" fill="none" stroke="#773c3c" stroke-width="1.4" stroke-linejoin="round"/>
<path d="M217.3 410.8l3.2 -1.9v3.8z" fill="#773c3c"/><path d="M232.9 426.8l3.2 -1.9v3.8z" fill="#773c3c"/><path d="M248.5 426.8l3.2 -1.9v3.8z" fill="#773c3c"/><path d="M264.2 426.8l3.2 -1.9v3.8z" fill="#773c3c"/><path d="M279.8 434.8l3.2 -1.9v3.8z" fill="#773c3c"/><path d="M295.4 434.5l3.2 -1.9v3.8z" fill="#773c3c"/><path d="M311.0 443.2l3.2 -1.9v3.8z" fill="#773c3c"/><path d="M326.7 449.9l3.2 -1.9v3.8z" fill="#773c3c"/><path d="M342.3 451.9l3.2 -1.9v3.8z" fill="#773c3c"/><path d="M357.9 465.5l3.2 -1.9v3.8z" fill="#773c3c"/>
<polyline points="219.2,475.6 234.8,491.6 250.4,497.5 266.1,497.5 281.7,497.5 297.3,497.5 312.9,497.5 328.6,497.5 344.2,497.5 359.8,497.5" fill="none" stroke="#f4aecb" stroke-width="1.4" stroke-linejoin="round"/>
<path d="M221.1 475.6l-3.2 -1.9v3.8z" fill="#f4aecb"/><path d="M236.7 491.6l-3.2 -1.9v3.8z" fill="#f4aecb"/><path d="M252.3 497.5l-3.2 -1.9v3.8z" fill="#f4aecb"/><path d="M268.0 497.5l-3.2 -1.9v3.8z" fill="#f4aecb"/><path d="M283.6 497.5l-3.2 -1.9v3.8z" fill="#f4aecb"/><path d="M299.2 497.5l-3.2 -1.9v3.8z" fill="#f4aecb"/><path d="M314.8 497.5l-3.2 -1.9v3.8z" fill="#f4aecb"/><path d="M330.5 497.5l-3.2 -1.9v3.8z" fill="#f4aecb"/><path d="M346.1 497.5l-3.2 -1.9v3.8z" fill="#f4aecb"/><path d="M361.7 497.5l-3.2 -1.9v3.8z" fill="#f4aecb"/>
<rect x="219.2" y="369.4" width="140.6" height="128.1" fill="none" stroke="#858585" stroke-width="1.0"/>
<path d="M229.6 497.5v-1.4M229.6 369.4v1.4M255.7 497.5v-1.4M255.7 369.4v1.4M281.7 497.5v-1.4M281.7 369.4v1.4M307.7 497.5v-1.4M307.7 369.4v1.4M333.8 497.5v-1.4M333.8 369.4v1.4M359.8 497.5v-1.4M359.8 369.4v1.4M219.2 496.8h1.4M359.8 496.8h-1.4M219.2 466.5h1.4M359.8 466.5h-1.4M219.2 436.2h1.4M359.8 436.2h-1.4M219.2 405.9h1.4M359.8 405.9h-1.4M219.2 375.6h1.4M359.8 375.6h-1.4" stroke="#555" stroke-width="0.6" fill="none"/>
<text x="229.6" y="509.8" font-size="8.15" text-anchor="middle" fill="#262626">0.5</text>
<text x="255.7" y="509.8" font-size="8.15" text-anchor="middle" fill="#262626">1</text>
<text x="281.7" y="509.8" font-size="8.15" text-anchor="middle" fill="#262626">1.5</text>
<text x="307.7" y="509.8" font-size="8.15" text-anchor="middle" fill="#262626">2</text>
<text x="333.8" y="509.8" font-size="8.15" text-anchor="middle" fill="#262626">2.5</text>
<text x="359.8" y="509.8" font-size="8.15" text-anchor="middle" fill="#262626">3</text>
<text x="214.6" y="499.6" font-size="8.15" text-anchor="end" fill="#262626">3.49</text>
<text x="214.6" y="469.3" font-size="8.15" text-anchor="end" fill="#262626">3.492</text>
<text x="214.6" y="439.0" font-size="8.15" text-anchor="end" fill="#262626">3.494</text>
<text x="214.6" y="408.7" font-size="8.15" text-anchor="end" fill="#262626">3.496</text>
<text x="214.6" y="378.4" font-size="8.15" text-anchor="end" fill="#262626">3.498</text>
<text x="289.5" y="366.8" font-size="9.4" text-anchor="middle" fill="#262626">CF17_F27</text>
<text x="220.5" y="520.1" font-size="9.35" fill="#262626">Number of function evaluations</text>
<text x="342.5" y="521.7" font-size="8.3" fill="#333">&#215;10</text>
<text x="356.2" y="519.0" font-size="6.6" fill="#333">4</text>
<text transform="translate(192.3 433.8) rotate(-90)" font-size="9.35" text-anchor="middle" fill="#262626">log10(Minimum value)</text>
<polyline points="398.4,459.3 414.1,473.5 429.8,483.3 445.5,484.5 461.2,485.0 476.8,485.5 492.5,485.8 508.2,486.0 523.9,486.2 539.6,486.3" fill="none" stroke="#444444" stroke-width="1.4" stroke-linejoin="round"/>
<path d="M398.4 457.4l1.9 3.2h-3.8z" fill="#444444"/><path d="M414.1 471.6l1.9 3.2h-3.8z" fill="#444444"/><path d="M429.8 481.4l1.9 3.2h-3.8z" fill="#444444"/><path d="M445.5 482.6l1.9 3.2h-3.8z" fill="#444444"/><path d="M461.2 483.1l1.9 3.2h-3.8z" fill="#444444"/><path d="M476.8 483.6l1.9 3.2h-3.8z" fill="#444444"/><path d="M492.5 483.9l1.9 3.2h-3.8z" fill="#444444"/><path d="M508.2 484.1l1.9 3.2h-3.8z" fill="#444444"/><path d="M523.9 484.3l1.9 3.2h-3.8z" fill="#444444"/><path d="M539.6 484.4l1.9 3.2h-3.8z" fill="#444444"/>
<polyline points="398.4,454.3 414.1,461.5 429.8,464.0 445.5,466.5 461.2,467.3 476.8,467.9 492.5,468.8 508.2,469.1 523.9,469.8 539.6,470.8" fill="none" stroke="#2c6ef2" stroke-width="1.4" stroke-linejoin="round"/>
<circle cx="398.4" cy="454.3" r="1.3" fill="#2c6ef2"/><circle cx="414.1" cy="461.5" r="1.3" fill="#2c6ef2"/><circle cx="429.8" cy="464.0" r="1.3" fill="#2c6ef2"/><circle cx="445.5" cy="466.5" r="1.3" fill="#2c6ef2"/><circle cx="461.2" cy="467.3" r="1.3" fill="#2c6ef2"/><circle cx="476.8" cy="467.9" r="1.3" fill="#2c6ef2"/><circle cx="492.5" cy="468.8" r="1.3" fill="#2c6ef2"/><circle cx="508.2" cy="469.1" r="1.3" fill="#2c6ef2"/><circle cx="523.9" cy="469.8" r="1.3" fill="#2c6ef2"/><circle cx="539.6" cy="470.8" r="1.3" fill="#2c6ef2"/>
<polyline points="398.4,436.2 414.1,435.6 429.8,450.5 445.5,452.4 461.2,453.4 476.8,454.8 492.5,455.3 508.2,462.1 523.9,463.0 539.6,459.2" fill="none" stroke="#35b86c" stroke-width="1.3" stroke-linejoin="round" stroke-dasharray="3.6,1.2,1.3,1.2"/>
<polyline points="398.4,473.5 414.1,482.9 429.8,483.6 445.5,485.5 461.2,487.0 476.8,488.0 492.5,488.2 508.2,488.5 523.9,488.8 539.6,489.2" fill="none" stroke="#9f62ee" stroke-width="1.4" stroke-linejoin="round"/>
<path d="M398.4 475.4l1.9 -3.2h-3.8z" fill="#9f62ee"/><path d="M414.1 484.8l1.9 -3.2h-3.8z" fill="#9f62ee"/><path d="M429.8 485.5l1.9 -3.2h-3.8z" fill="#9f62ee"/><path d="M445.5 487.4l1.9 -3.2h-3.8z" fill="#9f62ee"/><path d="M461.2 488.9l1.9 -3.2h-3.8z" fill="#9f62ee"/><path d="M476.8 489.9l1.9 -3.2h-3.8z" fill="#9f62ee"/><path d="M492.5 490.1l1.9 -3.2h-3.8z" fill="#9f62ee"/><path d="M508.2 490.4l1.9 -3.2h-3.8z" fill="#9f62ee"/><path d="M523.9 490.7l1.9 -3.2h-3.8z" fill="#9f62ee"/><path d="M539.6 491.1l1.9 -3.2h-3.8z" fill="#9f62ee"/>
<polyline points="398.4,466.9 414.1,470.8 429.8,472.7 445.5,476.7 461.2,479.3 476.8,480.0 492.5,480.3 508.2,480.5 523.9,480.8 539.6,481.0" fill="none" stroke="#d89f16" stroke-width="1.4" stroke-linejoin="round"/>
<circle cx="398.4" cy="466.9" r="1.3" fill="#d89f16"/><circle cx="414.1" cy="470.8" r="1.3" fill="#d89f16"/><circle cx="429.8" cy="472.7" r="1.3" fill="#d89f16"/><circle cx="445.5" cy="476.7" r="1.3" fill="#d89f16"/><circle cx="461.2" cy="479.3" r="1.3" fill="#d89f16"/><circle cx="476.8" cy="480.0" r="1.3" fill="#d89f16"/><circle cx="492.5" cy="480.3" r="1.3" fill="#d89f16"/><circle cx="508.2" cy="480.5" r="1.3" fill="#d89f16"/><circle cx="523.9" cy="480.8" r="1.3" fill="#d89f16"/><circle cx="539.6" cy="481.0" r="1.3" fill="#d89f16"/>
<polyline points="398.4,369.5 414.1,401.1 429.8,418.1 445.5,458.2 461.2,478.5 476.8,483.9 492.5,485.1 508.2,485.4 523.9,485.8 539.6,485.8" fill="none" stroke="#16c4cc" stroke-width="1.4" stroke-linejoin="round"/>
<path d="M398.4 367.6l1.5 1.9l-1.5 1.9l-1.5 -1.9z" fill="#16c4cc"/><path d="M414.1 399.2l1.5 1.9l-1.5 1.9l-1.5 -1.9z" fill="#16c4cc"/><path d="M429.8 416.2l1.5 1.9l-1.5 1.9l-1.5 -1.9z" fill="#16c4cc"/><path d="M445.5 456.3l1.5 1.9l-1.5 1.9l-1.5 -1.9z" fill="#16c4cc"/><path d="M461.2 476.6l1.5 1.9l-1.5 1.9l-1.5 -1.9z" fill="#16c4cc"/><path d="M476.8 482.0l1.5 1.9l-1.5 1.9l-1.5 -1.9z" fill="#16c4cc"/><path d="M492.5 483.2l1.5 1.9l-1.5 1.9l-1.5 -1.9z" fill="#16c4cc"/><path d="M508.2 483.5l1.5 1.9l-1.5 1.9l-1.5 -1.9z" fill="#16c4cc"/><path d="M523.9 483.9l1.5 1.9l-1.5 1.9l-1.5 -1.9z" fill="#16c4cc"/><path d="M539.6 483.9l1.5 1.9l-1.5 1.9l-1.5 -1.9z" fill="#16c4cc"/>
<polyline points="398.4,474.2 414.1,480.0 429.8,483.6 445.5,486.3 461.2,487.3 476.8,488.7 492.5,489.7 508.2,490.6 523.9,491.2 539.6,492.1" fill="none" stroke="#8a960c" stroke-width="1.4" stroke-linejoin="round"/>
<path d="M398.4 472.3l1.9 3.2h-3.8z" fill="#8a960c"/><path d="M414.1 478.1l1.9 3.2h-3.8z" fill="#8a960c"/><path d="M429.8 481.7l1.9 3.2h-3.8z" fill="#8a960c"/><path d="M445.5 484.4l1.9 3.2h-3.8z" fill="#8a960c"/><path d="M461.2 485.4l1.9 3.2h-3.8z" fill="#8a960c"/><path d="M476.8 486.8l1.9 3.2h-3.8z" fill="#8a960c"/><path d="M492.5 487.8l1.9 3.2h-3.8z" fill="#8a960c"/><path d="M508.2 488.7l1.9 3.2h-3.8z" fill="#8a960c"/><path d="M523.9 489.3l1.9 3.2h-3.8z" fill="#8a960c"/><path d="M539.6 490.2l1.9 3.2h-3.8z" fill="#8a960c"/>
<polyline points="398.4,471.7 414.1,480.7 429.8,483.6 445.5,485.1 461.2,485.8 476.8,486.5 492.5,486.5 508.2,486.5 523.9,486.5 539.6,486.8" fill="none" stroke="#f2ee08" stroke-width="1.6" stroke-linejoin="round"/>
<polyline points="398.4,459.3 414.1,460.7 429.8,461.5 445.5,463.0 461.2,465.0 476.8,466.5 492.5,466.5 508.2,467.9 523.9,469.8 539.6,472.3" fill="none" stroke="#773c3c" stroke-width="1.4" stroke-linejoin="round"/>
<path d="M396.5 459.3l3.2 -1.9v3.8z" fill="#773c3c"/><path d="M412.2 460.7l3.2 -1.9v3.8z" fill="#773c3c"/><path d="M427.9 461.5l3.2 -1.9v3.8z" fill="#773c3c"/><path d="M443.6 463.0l3.2 -1.9v3.8z" fill="#773c3c"/><path d="M459.3 465.0l3.2 -1.9v3.8z" fill="#773c3c"/><path d="M474.9 466.5l3.2 -1.9v3.8z" fill="#773c3c"/><path d="M490.6 466.5l3.2 -1.9v3.8z" fill="#773c3c"/><path d="M506.3 467.9l3.2 -1.9v3.8z" fill="#773c3c"/><path d="M522.0 469.8l3.2 -1.9v3.8z" fill="#773c3c"/><path d="M537.7 472.3l3.2 -1.9v3.8z" fill="#773c3c"/>
<polyline points="398.4,476.7 414.1,485.8 429.8,491.2 445.5,495.6 461.2,497.9 476.8,498.2 492.5,498.2 508.2,498.2 523.9,498.2 539.6,498.2" fill="none" stroke="#f4aecb" stroke-width="1.4" stroke-linejoin="round"/>
<path d="M400.3 476.7l-3.2 -1.9v3.8z" fill="#f4aecb"/><path d="M416.0 485.8l-3.2 -1.9v3.8z" fill="#f4aecb"/><path d="M431.7 491.2l-3.2 -1.9v3.8z" fill="#f4aecb"/><path d="M447.4 495.6l-3.2 -1.9v3.8z" fill="#f4aecb"/><path d="M463.1 497.9l-3.2 -1.9v3.8z" fill="#f4aecb"/><path d="M478.7 498.2l-3.2 -1.9v3.8z" fill="#f4aecb"/><path d="M494.4 498.2l-3.2 -1.9v3.8z" fill="#f4aecb"/><path d="M510.1 498.2l-3.2 -1.9v3.8z" fill="#f4aecb"/><path d="M525.8 498.2l-3.2 -1.9v3.8z" fill="#f4aecb"/><path d="M541.5 498.2l-3.2 -1.9v3.8z" fill="#f4aecb"/>
<rect x="398.4" y="369.6" width="141.2" height="128.4" fill="none" stroke="#858585" stroke-width="1.0"/>
<path d="M408.9 498.0v-1.4M408.9 369.6v1.4M435.0 498.0v-1.4M435.0 369.6v1.4M461.2 498.0v-1.4M461.2 369.6v1.4M487.3 498.0v-1.4M487.3 369.6v1.4M513.5 498.0v-1.4M513.5 369.6v1.4M539.6 498.0v-1.4M539.6 369.6v1.4M398.4 495.2h1.4M539.6 495.2h-1.4M398.4 464.3h1.4M539.6 464.3h-1.4M398.4 433.4h1.4M539.6 433.4h-1.4M398.4 402.5h1.4M539.6 402.5h-1.4M398.4 371.6h1.4M539.6 371.6h-1.4" stroke="#555" stroke-width="0.6" fill="none"/>
<text x="408.9" y="510.3" font-size="8.15" text-anchor="middle" fill="#262626">0.5</text>
<text x="435.0" y="510.3" font-size="8.15" text-anchor="middle" fill="#262626">1</text>
<text x="461.2" y="510.3" font-size="8.15" text-anchor="middle" fill="#262626">1.5</text>
<text x="487.3" y="510.3" font-size="8.15" text-anchor="middle" fill="#262626">2</text>
<text x="513.5" y="510.3" font-size="8.15" text-anchor="middle" fill="#262626">2.5</text>
<text x="539.6" y="510.3" font-size="8.15" text-anchor="middle" fill="#262626">3</text>
<text x="393.8" y="498.0" font-size="8.15" text-anchor="end" fill="#262626">3.5</text>
<text x="393.8" y="467.1" font-size="8.15" text-anchor="end" fill="#262626">3.52</text>
<text x="393.8" y="436.2" font-size="8.15" text-anchor="end" fill="#262626">3.54</text>
<text x="393.8" y="405.3" font-size="8.15" text-anchor="end" fill="#262626">3.56</text>
<text x="393.8" y="374.4" font-size="8.15" text-anchor="end" fill="#262626">3.58</text>
<text x="469.0" y="367.0" font-size="9.4" text-anchor="middle" fill="#262626">CF17_F29</text>
<text x="400.0" y="520.6" font-size="9.35" fill="#262626">Number of function evaluations</text>
<text x="522.3" y="522.2" font-size="8.3" fill="#333">&#215;10</text>
<text x="536.0" y="519.5" font-size="6.6" fill="#333">4</text>
<text transform="translate(375.5 434.1) rotate(-90)" font-size="9.35" text-anchor="middle" fill="#262626">log10(Minimum value)</text>
<rect x="120.2" y="530.4" width="333.3" height="20.1" fill="#fff" stroke="#8a8a8a" stroke-width="0.9"/>
<line x1="123.2" y1="535.8" x2="148.2" y2="535.8" stroke="#444444" stroke-width="1.8"/>
<path d="M135.7 533.9l1.9 3.2h-3.8z" fill="#444444"/>
<text x="151.2" y="538.6" font-size="7.6" fill="#262626">BEGJO</text>
<line x1="123.2" y1="545.1" x2="148.2" y2="545.1" stroke="#2c6ef2" stroke-width="1.8"/>
<circle cx="135.7" cy="545.1" r="1.3" fill="#2c6ef2"/>
<text x="151.2" y="547.9" font-size="7.6" fill="#262626">DMQPSO</text>
<line x1="187.6" y1="535.8" x2="212.6" y2="535.8" stroke="#35b86c" stroke-width="1.8" stroke-dasharray="4.6,1.3,2.4,1.3"/>
<text x="215.6" y="538.6" font-size="7.6" fill="#262626">FDBARO</text>
<line x1="187.6" y1="545.1" x2="212.6" y2="545.1" stroke="#9f62ee" stroke-width="1.8"/>
<path d="M200.1 547.0l1.9 -3.2h-3.8z" fill="#9f62ee"/>
<text x="215.6" y="547.9" font-size="7.6" fill="#262626">HWEAVOA</text>
<line x1="261.2" y1="535.8" x2="286.2" y2="535.8" stroke="#d89f16" stroke-width="1.8"/>
<circle cx="273.7" cy="535.8" r="1.3" fill="#d89f16"/>
<text x="289.2" y="538.6" font-size="7.6" fill="#262626">QHDBO</text>
<line x1="261.2" y1="545.1" x2="286.2" y2="545.1" stroke="#16c4cc" stroke-width="1.8"/>
<path d="M273.7 543.2l1.5 1.9l-1.5 1.9l-1.5 -1.9z" fill="#16c4cc"/>
<text x="289.2" y="547.9" font-size="7.6" fill="#262626">WAA</text>
<line x1="321.5" y1="535.8" x2="346.5" y2="535.8" stroke="#8a960c" stroke-width="1.8"/>
<path d="M334.0 533.9l1.9 3.2h-3.8z" fill="#8a960c"/>
<text x="349.5" y="538.6" font-size="7.6" fill="#262626">HEOA</text>
<line x1="321.5" y1="545.1" x2="346.5" y2="545.1" stroke="#f2ee08" stroke-width="1.8"/>
<text x="349.5" y="547.9" font-size="7.6" fill="#262626">DHEOA</text>
<line x1="381.5" y1="535.8" x2="406.5" y2="535.8" stroke="#773c3c" stroke-width="1.8"/>
<path d="M392.1 535.8l3.2 -1.9v3.8z" fill="#773c3c"/>
<text x="409.5" y="538.6" font-size="7.6" fill="#262626">IHEOA</text>
<line x1="381.5" y1="545.1" x2="406.5" y2="545.1" stroke="#f4aecb" stroke-width="1.8"/>
<path d="M395.9 545.1l-3.2 -1.9v3.8z" fill="#f4aecb"/>
<text x="409.5" y="547.9" font-size="7.6" fill="#262626">CLNBHEOA</text>
</svg></body></html>
